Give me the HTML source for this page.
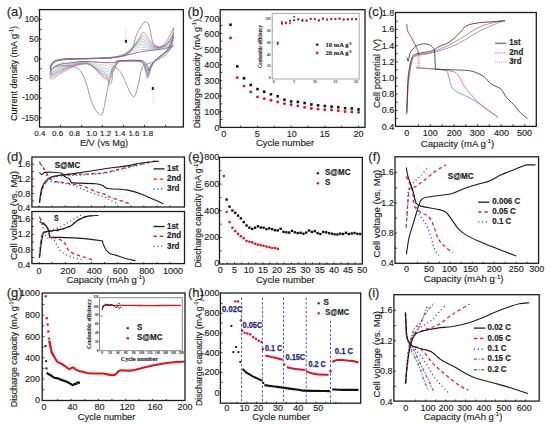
<!DOCTYPE html>
<html><head><meta charset="utf-8"><style>
html,body{margin:0;padding:0;background:#fff;width:550px;height:426px;overflow:hidden}
svg{display:block}
</style></head><body>
<svg width="550" height="426" viewBox="0 0 550 426">
<rect width="550" height="426" fill="#fff"/>
<path d="M50.5,67.71 L51.07,66.61 L51.64,65.5 L52.21,64.4 L52.78,63.29 L53.68,62.53 L54.8,61.98 L55.91,61.44 L57.03,60.89 L58.17,60.42 L59.4,60.23 L60.63,60.05 L61.86,59.88 L63.09,59.7 L64.33,59.52 L65.56,59.43 L66.81,59.37 L68.05,59.33 L69.29,59.29 L70.54,59.24 L71.78,59.2 L73.02,59.16 L74.27,59.12 L75.51,59.08 L76.75,59.04 L78,59 L79.24,58.95 L80.48,58.92 L81.73,58.89 L82.97,58.86 L84.21,58.82 L85.46,58.79 L86.7,58.76 L87.94,58.73 L89.19,58.7 L90.43,58.68 L91.68,58.65 L92.92,58.62 L94.16,58.59 L95.41,58.56 L96.65,58.53 L97.89,58.5 L99.14,58.46 L100.38,58.39 L101.62,58.31 L102.86,58.24 L104.1,58.16 L105.34,58.09 L106.59,58.01 L107.83,57.94 L109.07,57.85 L110.31,57.77 L111.55,57.69 L112.79,57.61 L114.02,57.46 L115.23,57.18 L116.45,56.91 L117.66,56.63 L118.87,56.36 L120.08,56.09 L121.29,55.81 L122.5,55.54 L123.66,55.16 L124.69,54.5 L125.72,53.83 L126.75,53.15 L127.77,52.47 L128.8,51.8 L129.67,50.97 L130.42,50.04 L131.18,49.1 L131.94,48.17 L132.7,47.24 L133.45,46.3 L134.21,45.36 L134.96,44.42 L135.72,43.47 L136.47,42.53 L137.23,41.59 L137.99,40.65 L138.77,39.72 L139.54,38.79 L140.31,37.86 L141.08,36.93 L141.86,36.01 L142.64,35.31 L143.51,36.1 L144.37,36.9 L145.24,37.69 L146.1,38.49 L146.97,39.28 L147.81,40.1 L148.63,40.93 L149.46,41.77 L150.29,42.61 L151.12,43.44 L151.94,44.28 L152.78,45.11 L153.9,45.58 L155.03,46.05 L156.16,46.52 L157.29,46.99 L158.41,47.46 L159.53,47.69 L160.63,47.12 L161.72,46.54 L162.82,45.97 L163.91,45.4 L165,44.83 L166.1,44.26 L167.17,43.67 L167.88,42.69 L168.58,41.7 L169.28,40.72 L169.99,39.73 L170.69,38.74 L171.39,37.75 L172.09,36.76 L172.8,35.77 L173.5,34.79" fill="none" stroke="#b86a8a" stroke-width="0.6" stroke-linecap="butt" stroke-linejoin="round"/>
<path d="M173.5,34.79 L173.02,36.33 L172.54,37.88 L172.06,39.42 L171.58,40.96 L171.09,42.5 L170.6,44.03 L169.79,45.44 L168.96,46.84 L168.13,48.24 L167.3,49.64 L166.47,51.04 L165.22,52.1 L163.97,53.16 L162.72,54.22 L161.47,55.28 L160.22,56.34 L158.96,57.39 L157.69,58.43 L156.42,59.47 L155.16,60.52 L154.12,61.75 L153.34,63.18 L152.56,64.62 L151.81,66.07 L151.05,67.52 L150.49,69.06 L149.99,70.62 L149.5,72.18 L149.01,73.75 L148.52,75.19 L148.04,76.42 L147.57,76.4 L147.11,74.83 L146.65,73.26 L146.13,71.71 L145.61,70.16 L145.15,68.6 L144.7,67.04 L144.2,65.54 L143.69,64.04 L142.56,62.91 L141.35,61.87 L139.93,61.31 L138.29,61.24 L136.65,61.17 L135.01,61.1 L133.37,61.03 L131.73,60.96 L130.09,60.89 L128.45,60.89 L126.81,60.9 L125.17,60.91 L123.53,60.93 L121.89,60.94 L120.25,60.95 L118.62,60.97 L117.36,61.56 L116.83,62.99 L116.3,64.45 L115.78,65.92 L115.26,67.39 L114.5,68.74 L113.52,69.98 L112.86,71.33 L112.52,72.8 L112.17,74.27 L111.83,75.74 L111.49,77.21 L110.93,78.59 L110.01,79.84 L109.09,81.09 L108.31,80.11 L107.55,78.76 L106.8,77.4 L105.54,76.63 L103.95,76.23 L102.68,75.28 L101.47,74.24 L100.26,73.19 L99.05,72.14 L97.84,71.1 L96.63,70.05 L95.42,69 L94.21,67.96 L92.99,66.91 L91.74,65.92 L90.34,65.11 L88.94,64.3 L87.5,63.67 L85.86,63.77 L84.23,63.86 L82.59,63.96 L80.95,64.06 L79.35,64.42 L77.76,64.79 L76.16,65.15 L74.56,65.52 L73.03,66.06 L71.54,66.73 L70.05,67.4 L68.56,68.08 L67.08,68.75 L65.64,69.51 L64.21,70.3 L62.78,71.08 L61.35,71.86 L59.92,72.64 L58.45,73.34 L56.96,74.02 L55.49,74.74 L54.03,75.48 L52.57,76.23 L51.29,76.67 L51.1,75.3 L50.91,73.93 L50.72,72.56 L50.63,70.99 L50.56,69.35 L50.5,67.71" fill="none" stroke="#b86a8a" stroke-width="0.6" stroke-linecap="butt" stroke-linejoin="round"/>
<path d="M50.5,67.43 L51.07,66.36 L51.64,65.28 L52.21,64.21 L52.77,63.14 L53.66,62.4 L54.76,61.88 L55.85,61.36 L56.95,60.84 L58.07,60.38 L59.26,60.18 L60.46,60.01 L61.67,59.83 L62.87,59.66 L64.07,59.49 L65.28,59.38 L66.49,59.31 L67.7,59.27 L68.92,59.23 L70.13,59.19 L71.35,59.15 L72.56,59.11 L73.77,59.06 L74.99,59.02 L76.2,58.98 L77.41,58.94 L78.63,58.9 L79.84,58.87 L81.06,58.84 L82.27,58.8 L83.49,58.77 L84.7,58.74 L85.91,58.71 L87.13,58.69 L88.34,58.66 L89.56,58.63 L90.77,58.61 L91.99,58.58 L93.2,58.55 L94.41,58.52 L95.63,58.5 L96.84,58.47 L98.06,58.44 L99.27,58.37 L100.48,58.31 L101.69,58.24 L102.91,58.18 L104.12,58.11 L105.33,58.04 L106.54,57.98 L107.76,57.9 L108.97,57.82 L110.18,57.74 L111.39,57.66 L112.59,57.53 L113.78,57.29 L114.97,57.05 L116.16,56.81 L117.34,56.57 L118.53,56.33 L119.72,56.09 L120.9,55.85 L122.05,55.53 L123.08,54.97 L124.12,54.37 L125.15,53.78 L126.18,53.19 L127.21,52.6 L128.11,51.87 L128.91,51.07 L129.72,50.26 L130.53,49.45 L131.33,48.65 L132.14,47.83 L132.94,47 L133.74,46.17 L134.54,45.35 L135.35,44.52 L136.15,43.69 L136.96,42.87 L137.78,42.05 L138.59,41.24 L139.41,40.42 L140.23,39.61 L141.05,38.8 L141.88,38.19 L142.77,38.82 L143.67,39.44 L144.56,40.07 L145.46,40.7 L146.35,41.32 L147.23,41.97 L148.09,42.63 L148.96,43.31 L149.82,43.99 L150.69,44.67 L151.55,45.34 L152.43,46.02 L153.54,46.39 L154.66,46.76 L155.77,47.13 L156.89,47.5 L158.01,47.86 L159.12,48.02 L160.2,47.52 L161.29,47.02 L162.38,46.51 L163.47,46.01 L164.55,45.51 L165.64,45.01 L166.71,44.49 L167.47,43.63 L168.23,42.75 L168.98,41.87 L169.73,40.99 L170.49,40.1 L171.24,39.22 L171.99,38.34 L172.75,37.45 L173.5,36.57" fill="none" stroke="#8a60b0" stroke-width="0.6" stroke-linecap="butt" stroke-linejoin="round"/>
<path d="M173.5,36.57 L172.96,38 L172.41,39.44 L171.87,40.87 L171.31,42.28 L170.75,43.7 L170.19,45.11 L169.36,46.42 L168.51,47.71 L167.66,49 L166.8,50.29 L165.95,51.57 L164.74,52.58 L163.54,53.58 L162.33,54.59 L161.13,55.61 L159.93,56.62 L158.72,57.62 L157.5,58.61 L156.29,59.61 L155.1,60.63 L154.09,61.8 L153.3,63.14 L152.51,64.48 L151.75,65.85 L151.01,67.23 L150.43,68.68 L149.95,70.17 L149.48,71.67 L149.01,73.17 L148.55,74.41 L148.1,75.24 L147.65,75.03 L147.22,73.52 L146.77,72.02 L146.22,70.57 L145.66,69.12 L145.16,67.65 L144.66,66.2 L144.05,64.86 L143.45,63.53 L142.32,62.51 L141.11,61.63 L139.71,61.17 L138.14,61.1 L136.58,61.04 L135.01,60.97 L133.44,60.91 L131.87,60.84 L130.3,60.78 L128.73,60.77 L127.16,60.8 L125.59,60.82 L124.02,60.85 L122.45,60.88 L120.88,60.91 L119.31,60.94 L118.06,61.44 L117.42,62.65 L116.78,63.91 L116.15,65.19 L115.51,66.47 L114.68,67.64 L113.67,68.69 L112.91,69.83 L112.42,71.07 L111.93,72.31 L111.45,73.55 L110.96,74.79 L110.29,75.93 L109.32,76.97 L108.35,78 L107.49,77.17 L106.66,76.03 L105.83,74.89 L104.57,74.23 L103.05,73.89 L101.79,73.09 L100.57,72.21 L99.36,71.32 L98.15,70.44 L96.94,69.56 L95.73,68.67 L94.51,67.79 L93.3,66.91 L92.09,66.02 L90.84,65.19 L89.47,64.5 L88.1,63.83 L86.7,63.32 L85.13,63.42 L83.56,63.52 L82,63.62 L80.43,63.73 L78.89,64.04 L77.36,64.37 L75.83,64.7 L74.29,65.02 L72.81,65.49 L71.37,66.08 L69.93,66.67 L68.49,67.26 L67.05,67.85 L65.65,68.52 L64.26,69.2 L62.86,69.89 L61.47,70.57 L60.08,71.25 L58.65,71.86 L57.21,72.45 L55.81,73.14 L54.42,73.87 L53.03,74.6 L51.79,75.08 L51.46,74.05 L51.13,73.01 L50.8,71.98 L50.65,70.56 L50.58,69 L50.5,67.43" fill="none" stroke="#8a60b0" stroke-width="0.6" stroke-linecap="butt" stroke-linejoin="round"/>
<path d="M50.5,67.14 L51.07,66.1 L51.64,65.07 L52.2,64.03 L52.77,62.99 L53.64,62.27 L54.72,61.78 L55.8,61.28 L56.87,60.79 L57.96,60.34 L59.12,60.13 L60.3,59.96 L61.47,59.79 L62.64,59.62 L63.82,59.45 L64.99,59.34 L66.17,59.25 L67.36,59.21 L68.54,59.17 L69.73,59.13 L70.91,59.09 L72.1,59.05 L73.28,59.01 L74.46,58.97 L75.65,58.93 L76.83,58.89 L78.02,58.85 L79.2,58.82 L80.39,58.78 L81.57,58.75 L82.76,58.72 L83.94,58.69 L85.13,58.67 L86.31,58.64 L87.5,58.62 L88.68,58.59 L89.87,58.57 L91.05,58.54 L92.24,58.52 L93.42,58.49 L94.61,58.47 L95.79,58.44 L96.98,58.41 L98.16,58.36 L99.34,58.3 L100.53,58.24 L101.71,58.19 L102.89,58.13 L104.08,58.08 L105.26,58.02 L106.44,57.95 L107.63,57.87 L108.81,57.79 L109.99,57.72 L111.17,57.6 L112.33,57.39 L113.49,57.19 L114.65,56.98 L115.82,56.78 L116.98,56.58 L118.14,56.37 L119.3,56.17 L120.43,55.89 L121.48,55.43 L122.51,54.92 L123.55,54.41 L124.58,53.9 L125.62,53.39 L126.55,52.78 L127.4,52.1 L128.26,51.42 L129.11,50.73 L129.97,50.05 L130.82,49.36 L131.67,48.64 L132.52,47.93 L133.37,47.22 L134.22,46.51 L135.07,45.8 L135.92,45.09 L136.79,44.39 L137.65,43.68 L138.51,42.98 L139.37,42.29 L140.24,41.6 L141.11,41.07 L142.03,41.53 L142.96,41.99 L143.89,42.45 L144.81,42.91 L145.74,43.37 L146.65,43.84 L147.55,44.34 L148.45,44.85 L149.36,45.37 L150.26,45.89 L151.17,46.4 L152.07,46.92 L153.18,47.19 L154.28,47.46 L155.39,47.73 L156.49,48 L157.6,48.26 L158.7,48.36 L159.78,47.92 L160.86,47.49 L161.94,47.06 L163.02,46.62 L164.1,46.19 L165.18,45.75 L166.25,45.31 L167.07,44.58 L167.87,43.8 L168.68,43.02 L169.48,42.24 L170.28,41.47 L171.09,40.69 L171.89,39.91 L172.7,39.13 L173.5,38.36" fill="none" stroke="#6a88c8" stroke-width="0.6" stroke-linecap="butt" stroke-linejoin="round"/>
<path d="M173.5,38.36 L172.89,39.68 L172.29,40.99 L171.68,42.31 L171.04,43.6 L170.41,44.9 L169.78,46.19 L168.93,47.4 L168.06,48.58 L167.18,49.76 L166.3,50.93 L165.42,52.11 L164.26,53.06 L163.1,54.01 L161.95,54.97 L160.8,55.93 L159.65,56.9 L158.49,57.85 L157.32,58.79 L156.17,59.76 L155.04,60.75 L154.06,61.85 L153.26,63.1 L152.45,64.34 L151.7,65.63 L150.97,66.94 L150.37,68.3 L149.9,69.72 L149.46,71.16 L149.01,72.59 L148.58,73.64 L148.15,74.07 L147.74,73.66 L147.33,72.22 L146.89,70.79 L146.3,69.43 L145.71,68.07 L145.16,66.71 L144.61,65.35 L143.91,64.18 L143.2,63.01 L142.07,62.1 L140.86,61.4 L139.5,61.02 L138,60.96 L136.5,60.9 L135,60.84 L133.5,60.79 L132,60.73 L130.5,60.67 L129,60.66 L127.5,60.7 L126,60.74 L124.5,60.78 L123,60.82 L121.5,60.86 L120.01,60.91 L118.76,61.33 L118,62.32 L117.26,63.38 L116.51,64.46 L115.77,65.55 L114.87,66.54 L113.81,67.39 L112.96,68.33 L112.33,69.34 L111.7,70.35 L111.06,71.36 L110.43,72.37 L109.65,73.28 L108.63,74.09 L107.6,74.9 L106.68,74.23 L105.77,73.3 L104.86,72.38 L103.61,71.84 L102.15,71.55 L100.89,70.9 L99.68,70.18 L98.47,69.46 L97.25,68.74 L96.04,68.02 L94.82,67.3 L93.61,66.57 L92.4,65.85 L91.18,65.13 L89.94,64.45 L88.6,63.89 L87.26,63.35 L85.9,62.97 L84.4,63.07 L82.9,63.18 L81.4,63.29 L79.91,63.39 L78.44,63.67 L76.97,63.96 L75.5,64.24 L74.03,64.53 L72.6,64.92 L71.2,65.42 L69.81,65.94 L68.41,66.45 L67.02,66.96 L65.66,67.53 L64.3,68.11 L62.95,68.69 L61.59,69.27 L60.24,69.86 L58.85,70.38 L57.46,70.89 L56.12,71.55 L54.8,72.26 L53.48,72.98 L52.29,73.49 L51.82,72.8 L51.35,72.1 L50.88,71.41 L50.68,70.14 L50.59,68.64 L50.5,67.14" fill="none" stroke="#6a88c8" stroke-width="0.6" stroke-linecap="butt" stroke-linejoin="round"/>
<path d="M50.5,66.86 L51.07,65.85 L51.63,64.85 L52.2,63.84 L52.77,62.84 L53.63,62.15 L54.68,61.68 L55.74,61.21 L56.79,60.74 L57.86,60.3 L58.98,60.07 L60.13,59.91 L61.27,59.75 L62.42,59.58 L63.56,59.42 L64.71,59.3 L65.86,59.19 L67.01,59.15 L68.17,59.11 L69.32,59.07 L70.48,59.03 L71.63,58.99 L72.79,58.95 L73.94,58.92 L75.1,58.88 L76.25,58.84 L77.41,58.8 L78.56,58.77 L79.72,58.73 L80.87,58.7 L82.03,58.66 L83.18,58.64 L84.34,58.62 L85.5,58.59 L86.65,58.57 L87.81,58.55 L88.96,58.53 L90.12,58.5 L91.27,58.48 L92.43,58.46 L93.58,58.43 L94.74,58.41 L95.89,58.39 L97.05,58.34 L98.2,58.29 L99.36,58.25 L100.51,58.2 L101.67,58.16 L102.82,58.11 L103.98,58.06 L105.13,57.99 L106.28,57.92 L107.44,57.85 L108.59,57.77 L109.74,57.66 L110.88,57.5 L112.01,57.33 L113.15,57.16 L114.29,56.99 L115.43,56.82 L116.57,56.65 L117.71,56.48 L118.82,56.26 L119.87,55.9 L120.91,55.47 L121.95,55.04 L122.99,54.62 L124.03,54.19 L124.98,53.68 L125.89,53.13 L126.79,52.57 L127.7,52.02 L128.6,51.46 L129.51,50.88 L130.4,50.29 L131.3,49.69 L132.2,49.1 L133.09,48.5 L133.99,47.9 L134.89,47.31 L135.8,46.72 L136.7,46.13 L137.61,45.54 L138.52,44.97 L139.43,44.4 L140.34,43.95 L141.3,44.24 L142.25,44.54 L143.21,44.83 L144.17,45.12 L145.12,45.41 L146.06,45.72 L147,46.04 L147.95,46.4 L148.89,46.75 L149.83,47.11 L150.78,47.47 L151.72,47.82 L152.82,47.99 L153.91,48.16 L155.01,48.33 L156.1,48.5 L157.19,48.66 L158.28,48.69 L159.35,48.33 L160.43,47.96 L161.5,47.6 L162.58,47.23 L163.65,46.87 L164.73,46.5 L165.79,46.13 L166.66,45.52 L167.52,44.85 L168.37,44.17 L169.23,43.5 L170.08,42.83 L170.94,42.16 L171.79,41.49 L172.65,40.81 L173.5,40.14" fill="none" stroke="#6ab0b0" stroke-width="0.6" stroke-linecap="butt" stroke-linejoin="round"/>
<path d="M173.5,40.14 L172.83,41.35 L172.16,42.55 L171.48,43.75 L170.78,44.92 L170.08,46.1 L169.37,47.27 L168.51,48.37 L167.61,49.45 L166.71,50.52 L165.8,51.58 L164.9,52.65 L163.78,53.54 L162.67,54.44 L161.56,55.35 L160.46,56.26 L159.36,57.17 L158.25,58.08 L157.14,58.98 L156.05,59.9 L154.98,60.86 L154.03,61.9 L153.21,63.05 L152.39,64.2 L151.65,65.42 L150.93,66.65 L150.31,67.93 L149.86,69.28 L149.43,70.65 L149.01,72.01 L148.6,72.87 L148.21,72.89 L147.82,72.29 L147.44,70.91 L147.02,69.55 L146.39,68.29 L145.77,67.03 L145.17,65.76 L144.57,64.5 L143.76,63.5 L142.96,62.49 L141.83,61.7 L140.61,61.16 L139.29,60.87 L137.86,60.82 L136.43,60.77 L135,60.72 L133.57,60.66 L132.14,60.61 L130.71,60.56 L129.28,60.54 L127.85,60.59 L126.42,60.65 L124.99,60.71 L123.56,60.76 L122.13,60.82 L120.7,60.88 L119.46,61.22 L118.59,61.98 L117.73,62.84 L116.88,63.74 L116.03,64.63 L115.06,65.44 L113.96,66.1 L113.02,66.82 L112.24,67.6 L111.46,68.38 L110.68,69.16 L109.9,69.94 L109.01,70.62 L107.94,71.21 L106.86,71.81 L105.86,71.28 L104.88,70.57 L103.89,69.86 L102.65,69.44 L101.24,69.21 L100,68.7 L98.79,68.15 L97.57,67.59 L96.35,67.03 L95.14,66.48 L93.92,65.92 L92.71,65.36 L91.49,64.8 L90.28,64.25 L89.04,63.72 L87.73,63.27 L86.42,62.88 L85.09,62.62 L83.67,62.73 L82.24,62.84 L80.81,62.95 L79.39,63.06 L77.98,63.3 L76.57,63.54 L75.17,63.78 L73.76,64.03 L72.38,64.36 L71.03,64.77 L69.69,65.2 L68.34,65.63 L66.99,66.06 L65.67,66.53 L64.35,67.01 L63.03,67.5 L61.71,67.98 L60.39,68.46 L59.05,68.9 L57.7,69.33 L56.43,69.95 L55.18,70.65 L53.94,71.36 L52.78,71.91 L52.17,71.55 L51.57,71.19 L50.96,70.84 L50.71,69.71 L50.6,68.28 L50.5,66.86" fill="none" stroke="#6ab0b0" stroke-width="0.6" stroke-linecap="butt" stroke-linejoin="round"/>
<path d="M50.5,66.57 L51.07,65.6 L51.63,64.63 L52.2,63.66 L52.77,62.68 L53.61,62.02 L54.64,61.58 L55.68,61.13 L56.71,60.68 L57.75,60.26 L58.84,60.02 L59.96,59.86 L61.07,59.7 L62.19,59.54 L63.3,59.39 L64.42,59.25 L65.54,59.13 L66.67,59.09 L67.79,59.05 L68.92,59.01 L70.04,58.97 L71.17,58.94 L72.29,58.9 L73.42,58.86 L74.55,58.82 L75.67,58.79 L76.8,58.75 L77.92,58.71 L79.05,58.68 L80.17,58.65 L81.3,58.61 L82.43,58.59 L83.55,58.57 L84.68,58.55 L85.8,58.53 L86.93,58.51 L88.06,58.49 L89.18,58.47 L90.31,58.44 L91.44,58.42 L92.56,58.4 L93.69,58.38 L94.81,58.36 L95.94,58.32 L97.06,58.29 L98.19,58.25 L99.32,58.22 L100.44,58.18 L101.57,58.15 L102.69,58.11 L103.82,58.04 L104.94,57.97 L106.06,57.9 L107.19,57.83 L108.31,57.73 L109.42,57.6 L110.54,57.47 L111.65,57.33 L112.77,57.2 L113.88,57.06 L114.99,56.93 L116.11,56.8 L117.21,56.63 L118.26,56.36 L119.3,56.02 L120.35,55.67 L121.39,55.33 L122.43,54.98 L123.42,54.59 L124.38,54.16 L125.33,53.73 L126.29,53.3 L127.24,52.87 L128.19,52.41 L129.13,51.93 L130.08,51.45 L131.02,50.97 L131.97,50.49 L132.91,50.01 L133.86,49.53 L134.8,49.05 L135.75,48.58 L136.7,48.1 L137.66,47.65 L138.61,47.2 L139.57,46.83 L140.56,46.96 L141.55,47.08 L142.53,47.21 L143.52,47.33 L144.51,47.46 L145.48,47.59 L146.46,47.75 L147.44,47.94 L148.42,48.14 L149.41,48.33 L150.39,48.53 L151.37,48.72 L152.46,48.79 L153.54,48.86 L154.62,48.93 L155.7,49.01 L156.78,49.06 L157.86,49.03 L158.93,48.73 L160,48.43 L161.07,48.14 L162.13,47.84 L163.2,47.55 L164.27,47.25 L165.33,46.95 L166.26,46.46 L167.16,45.89 L168.07,45.33 L168.97,44.76 L169.88,44.19 L170.78,43.63 L171.69,43.06 L172.59,42.49 L173.5,41.93" fill="none" stroke="#98c098" stroke-width="0.6" stroke-linecap="butt" stroke-linejoin="round"/>
<path d="M173.5,41.93 L172.76,43.02 L172.03,44.11 L171.29,45.2 L170.51,46.25 L169.74,47.3 L168.96,48.34 L168.08,49.35 L167.16,50.32 L166.23,51.27 L165.3,52.23 L164.38,53.18 L163.31,54.02 L162.24,54.87 L161.18,55.72 L160.13,56.58 L159.07,57.45 L158.02,58.31 L156.96,59.16 L155.92,60.04 L154.93,60.97 L154,61.95 L153.17,63.01 L152.33,64.06 L151.6,65.2 L150.89,66.36 L150.25,67.55 L149.81,68.83 L149.41,70.13 L149.02,71.44 L148.63,72.09 L148.26,71.72 L147.9,70.92 L147.54,69.61 L147.14,68.32 L146.48,67.15 L145.82,65.98 L145.18,64.81 L144.52,63.66 L143.61,62.81 L142.71,61.97 L141.58,61.3 L140.36,60.93 L139.07,60.72 L137.71,60.68 L136.35,60.63 L134.99,60.59 L133.63,60.54 L132.27,60.5 L130.91,60.45 L129.55,60.43 L128.19,60.49 L126.83,60.56 L125.47,60.63 L124.11,60.7 L122.76,60.77 L121.4,60.84 L120.17,61.1 L119.18,61.65 L118.21,62.3 L117.25,63.01 L116.29,63.71 L115.24,64.33 L114.1,64.81 L113.07,65.32 L112.14,65.87 L111.22,66.42 L110.29,66.97 L109.37,67.52 L108.37,67.96 L107.24,68.34 L106.12,68.71 L105.05,68.34 L103.98,67.84 L102.92,67.35 L101.69,67.05 L100.34,66.87 L99.11,66.51 L97.89,66.12 L96.67,65.73 L95.46,65.33 L94.24,64.94 L93.02,64.54 L91.81,64.15 L90.59,63.75 L89.37,63.36 L88.14,62.98 L86.86,62.66 L85.58,62.4 L84.29,62.27 L82.93,62.38 L81.58,62.5 L80.22,62.61 L78.86,62.72 L77.52,62.92 L76.18,63.12 L74.83,63.33 L73.49,63.53 L72.17,63.79 L70.87,64.12 L69.56,64.47 L68.26,64.81 L66.96,65.16 L65.68,65.54 L64.4,65.92 L63.11,66.3 L61.83,66.69 L60.55,67.07 L59.25,67.42 L57.95,67.77 L56.74,68.36 L55.57,69.05 L54.4,69.73 L53.28,70.32 L52.53,70.3 L51.78,70.28 L51.03,70.26 L50.74,69.28 L50.62,67.93 L50.5,66.57" fill="none" stroke="#98c098" stroke-width="0.6" stroke-linecap="butt" stroke-linejoin="round"/>
<path d="M50.5,66.29 L51.07,65.35 L51.63,64.41 L52.2,63.47 L52.77,62.53 L53.59,61.9 L54.61,61.47 L55.62,61.05 L56.63,60.63 L57.65,60.22 L58.71,59.97 L59.79,59.82 L60.88,59.66 L61.96,59.51 L63.05,59.35 L64.14,59.21 L65.22,59.07 L66.32,59.03 L67.42,58.99 L68.51,58.95 L69.61,58.92 L70.71,58.88 L71.8,58.84 L72.9,58.81 L73.99,58.77 L75.09,58.74 L76.19,58.7 L77.28,58.66 L78.38,58.63 L79.48,58.59 L80.57,58.56 L81.67,58.54 L82.77,58.52 L83.86,58.5 L84.96,58.48 L86.06,58.46 L87.15,58.45 L88.25,58.43 L89.35,58.41 L90.44,58.39 L91.54,58.37 L92.64,58.35 L93.73,58.34 L94.83,58.31 L95.93,58.28 L97.02,58.26 L98.12,58.23 L99.22,58.21 L100.31,58.18 L101.41,58.15 L102.5,58.08 L103.6,58.02 L104.69,57.95 L105.79,57.88 L106.88,57.8 L107.97,57.7 L109.06,57.61 L110.15,57.51 L111.24,57.41 L112.33,57.31 L113.42,57.21 L114.51,57.11 L115.59,56.99 L116.65,56.83 L117.7,56.57 L118.75,56.3 L119.79,56.04 L120.84,55.78 L121.86,55.49 L122.87,55.19 L123.87,54.88 L124.87,54.58 L125.88,54.28 L126.87,53.94 L127.86,53.57 L128.86,53.21 L129.85,52.84 L130.84,52.48 L131.83,52.11 L132.82,51.75 L133.81,51.39 L134.81,51.03 L135.8,50.66 L136.8,50.33 L137.8,50 L138.81,49.71 L139.82,49.67 L140.84,49.63 L141.86,49.59 L142.87,49.54 L143.89,49.5 L144.9,49.46 L145.92,49.45 L146.94,49.48 L147.96,49.52 L148.98,49.55 L150,49.59 L151.02,49.62 L152.09,49.59 L153.16,49.56 L154.24,49.54 L155.31,49.51 L156.38,49.46 L157.44,49.36 L158.5,49.13 L159.57,48.91 L160.63,48.68 L161.69,48.45 L162.75,48.23 L163.81,48 L164.87,47.77 L165.85,47.4 L166.81,46.94 L167.76,46.48 L168.72,46.02 L169.68,45.56 L170.63,45.1 L171.59,44.64 L172.54,44.18 L173.5,43.71" fill="none" stroke="#d0a0c0" stroke-width="0.6" stroke-linecap="butt" stroke-linejoin="round"/>
<path d="M173.5,43.71 L172.7,44.69 L171.9,45.67 L171.1,46.64 L170.25,47.57 L169.4,48.5 L168.55,49.42 L167.65,50.33 L166.71,51.19 L165.76,52.03 L164.8,52.87 L163.85,53.72 L162.83,54.51 L161.8,55.29 L160.79,56.1 L159.79,56.91 L158.79,57.72 L157.78,58.53 L156.77,59.34 L155.8,60.19 L154.87,61.08 L153.97,62.01 L153.12,62.96 L152.27,63.92 L151.54,64.98 L150.85,66.07 L150.19,67.17 L149.76,68.38 L149.39,69.62 L149.02,70.86 L148.66,71.32 L148.32,70.54 L147.98,69.55 L147.65,68.3 L147.26,67.08 L146.57,66.01 L145.87,64.94 L145.18,63.86 L144.47,62.81 L143.47,62.13 L142.46,61.45 L141.34,60.9 L140.12,60.7 L138.86,60.58 L137.57,60.54 L136.28,60.5 L134.99,60.46 L133.7,60.42 L132.41,60.38 L131.11,60.34 L129.82,60.32 L128.53,60.39 L127.25,60.47 L125.96,60.56 L124.67,60.64 L123.38,60.73 L122.09,60.81 L120.87,60.99 L119.76,61.31 L118.69,61.77 L117.62,62.28 L116.55,62.8 L115.43,63.23 L114.25,63.51 L113.12,63.82 L112.05,64.14 L110.98,64.46 L109.91,64.78 L108.83,65.1 L107.72,65.31 L106.55,65.46 L105.38,65.61 L104.24,65.4 L103.09,65.12 L101.95,64.84 L100.72,64.65 L99.44,64.53 L98.21,64.32 L97,64.09 L95.78,63.86 L94.56,63.63 L93.34,63.4 L92.12,63.16 L90.9,62.93 L89.68,62.7 L88.47,62.47 L87.24,62.25 L85.99,62.05 L84.74,61.92 L83.49,61.92 L82.2,62.04 L80.92,62.15 L79.63,62.27 L78.34,62.39 L77.06,62.55 L75.78,62.71 L74.5,62.87 L73.22,63.03 L71.96,63.22 L70.7,63.47 L69.44,63.73 L68.19,64 L66.93,64.26 L65.69,64.54 L64.44,64.83 L63.2,65.11 L61.95,65.39 L60.71,65.68 L59.45,65.94 L58.2,66.21 L57.05,66.76 L55.95,67.44 L54.85,68.11 L53.78,68.73 L52.89,69.05 L52,69.37 L51.11,69.69 L50.77,68.85 L50.63,67.57 L50.5,66.29" fill="none" stroke="#d0a0c0" stroke-width="0.6" stroke-linecap="butt" stroke-linejoin="round"/>
<path d="M50.5,68 C50.92,67.17 51.75,64.25 53,63 C54.25,61.75 56,61.08 58,60.5 C60,59.92 61.33,59.75 65,59.5 C68.67,59.25 74.17,59.17 80,59 C85.83,58.83 94.17,58.75 100,58.5 C105.83,58.25 110.83,58.08 115,57.5 C119.17,56.92 122.37,56.13 125,55 C127.63,53.87 128.52,53.38 130.8,50.7 C133.08,48.02 136.62,41.97 138.7,38.9 C140.78,35.83 141.77,32.52 143.3,32.3 C144.83,32.08 146.27,35.62 147.9,37.6 C149.53,39.58 151.13,42.55 153.1,44.2 C155.07,45.85 157.28,47.72 159.7,47.5 C162.12,47.28 165.3,45.32 167.6,42.9 C169.9,40.48 172.52,34.65 173.5,33" fill="none" stroke="#c86878" stroke-width="0.7" stroke-linecap="butt" stroke-linejoin="round"/>
<path d="M173.5,33 C173.08,34.67 172.08,40.08 171,43 C169.92,45.92 168.83,48.25 167,50.5 C165.17,52.75 162.08,54.75 160,56.5 C157.92,58.25 156,59.08 154.5,61 C153,62.92 152.13,65.08 151,68 C149.87,70.92 148.62,78 147.7,78.5 C146.78,79 146.13,73.35 145.5,71 C144.87,68.65 144.65,65.98 143.9,64.4 C143.15,62.82 143.32,62.07 141,61.5 C138.68,60.93 133.83,61.08 130,61 C126.17,60.92 120.2,60.98 118,61 C115.8,61.02 117.33,59.75 116.8,61.1 C116.27,62.45 115.45,67.28 114.8,69.1 C114.15,70.92 113.38,70.07 112.9,72 C112.42,73.93 112.43,78.63 111.9,80.7 C111.37,82.77 110.43,84.63 109.7,84.4 C108.97,84.17 108.35,80.28 107.5,79.3 C106.65,78.32 105.57,79.12 104.6,78.5 C103.63,77.88 102.9,76.8 101.7,75.6 C100.5,74.4 98.85,72.75 97.4,71.3 C95.95,69.85 94.47,68.12 93,66.9 C91.53,65.68 90.53,64.42 88.6,64 C86.67,63.58 83.82,64.03 81.4,64.4 C78.98,64.77 76.53,65.3 74.1,66.2 C71.67,67.1 69.23,68.47 66.8,69.8 C64.37,71.13 62.17,72.75 59.5,74.2 C56.83,75.65 52.3,79.53 50.8,78.5 C49.3,77.47 50.55,69.75 50.5,68" fill="none" stroke="#c86878" stroke-width="0.7" stroke-linecap="butt" stroke-linejoin="round"/>
<path d="M50.5,66 C50.92,65.33 51.75,63 53,62 C54.25,61 56,60.5 58,60 C60,59.5 61.33,59.25 65,59 C68.67,58.75 74.17,58.63 80,58.5 C85.83,58.37 94.17,58.4 100,58.2 C105.83,58 110.83,57.73 115,57.3 C119.17,56.87 121.67,56.28 125,55.6 C128.33,54.92 131.67,53.93 135,53.2 C138.33,52.47 141.67,51.73 145,51.2 C148.33,50.67 151.67,50.45 155,50 C158.33,49.55 161.92,49.25 165,48.5 C168.08,47.75 172.08,46 173.5,45.5" fill="none" stroke="#7a4aa8" stroke-width="0.8" stroke-linecap="butt" stroke-linejoin="round"/>
<path d="M173.5,45.5 C173.08,45.92 172.08,47 171,48 C169.92,49 168.67,50.17 167,51.5 C165.33,52.83 162.83,54.58 161,56 C159.17,57.42 157.5,58.67 156,60 C154.5,61.33 153,62.83 152,64 C151,65.17 150.53,65.83 150,67 C149.47,68.17 149.22,71.17 148.8,71 C148.38,70.83 148.22,67.5 147.5,66 C146.78,64.5 145.53,62.92 144.5,62 C143.47,61.08 143.72,60.8 141.3,60.5 C138.88,60.2 133.55,60.12 130,60.2 C126.45,60.28 122.33,60.68 120,61 C117.67,61.32 118,61.82 116,62.1 C114,62.38 111.5,62.72 108,62.7 C104.5,62.68 98.93,62.22 95,62 C91.07,61.78 88.35,61.28 84.4,61.4 C80.45,61.52 75.68,62.15 71.3,62.7 C66.92,63.25 61.5,63.6 58.1,64.7 C54.7,65.8 52.17,69.08 50.9,69.3 C49.63,69.52 50.57,66.55 50.5,66" fill="none" stroke="#5a4a98" stroke-width="0.8" stroke-linecap="butt" stroke-linejoin="round"/>
<path d="M50.8,66 C51.17,65.37 51.8,63.2 53,62.2 C54.2,61.2 56,60.53 58,60 C60,59.47 61.33,59.23 65,59 C68.67,58.77 74.17,58.73 80,58.6 C85.83,58.47 94.17,58.4 100,58.2 C105.83,58 110.83,57.9 115,57.4 C119.17,56.9 122.15,56.53 125,55.2 C127.85,53.87 130.27,52.55 132.1,49.4 C133.93,46.25 134.68,39.8 136,36.3 C137.32,32.8 138.47,30.82 140,28.4 C141.53,25.98 143.67,22.23 145.2,21.8 C146.73,21.37 148.1,22.95 149.2,25.8 C150.3,28.65 150.93,35.73 151.8,38.9 C152.67,42.07 153.08,43.48 154.4,44.8 C155.72,46.12 157.93,47.02 159.7,46.8 C161.47,46.58 163.25,45.47 165,43.5 C166.75,41.53 168.78,37.63 170.2,35 C171.62,32.37 172.95,28.92 173.5,27.7" fill="none" stroke="#7a7a7a" stroke-width="0.75" stroke-linecap="butt" stroke-linejoin="round"/>
<path d="M173.5,27.7 C173.33,29.75 173.27,36.07 172.5,40 C171.73,43.93 170.82,48.32 168.9,51.3 C166.98,54.28 163.42,56.2 161,57.9 C158.58,59.6 156.57,60.52 154.4,61.5 C152.23,62.48 149.85,63.08 148,63.8 C146.15,64.52 144.55,64.27 143.3,65.8 C142.05,67.33 141.27,70.15 140.5,73 C139.73,75.85 139.45,79.57 138.7,82.9 C137.95,86.23 136.77,90.72 136,93 C135.23,95.28 134.93,96.43 134.1,96.6 C133.27,96.77 132,95.42 131,94 C130,92.58 129.67,91.48 128.1,88.1 C126.53,84.72 123.45,76.98 121.6,73.7 C119.75,70.42 118.38,69.6 117,68.4 C115.62,67.2 114.35,65.37 113.3,66.5 C112.25,67.63 111.58,71.78 110.7,75.2 C109.82,78.62 108.88,82.83 108,87 C107.12,91.17 106.15,96.37 105.4,100.2 C104.65,104.03 104.13,107.53 103.5,110 C102.87,112.47 102.35,114.33 101.6,115 C100.85,115.67 100.1,115 99,114 C97.9,113 96.33,111.3 95,109 C93.67,106.7 92.33,104.03 91,100.2 C89.67,96.37 88.32,90.17 87,86 C85.68,81.83 84.43,77.95 83.1,75.2 C81.77,72.45 80.32,70.82 79,69.5 C77.68,68.18 76.7,67.88 75.2,67.3 C73.7,66.72 72.2,66.3 70,66 C67.8,65.7 64.5,65.33 62,65.5 C59.5,65.67 56.87,66.33 55,67 C53.13,67.67 51.5,69.67 50.8,69.5 C50.1,69.33 50.8,66.58 50.8,66" fill="none" stroke="#7a7a7a" stroke-width="0.75" stroke-linecap="butt" stroke-linejoin="round"/>
<line x1="125.9" y1="28.2" x2="125.9" y2="29" stroke="#999" stroke-width="0.6" stroke-linecap="butt"/>
<line x1="125.9" y1="30.4" x2="125.9" y2="31.2" stroke="#999" stroke-width="0.6" stroke-linecap="butt"/>
<line x1="125.9" y1="32.6" x2="125.9" y2="33.4" stroke="#999" stroke-width="0.6" stroke-linecap="butt"/>
<line x1="125.9" y1="34.8" x2="125.9" y2="35.6" stroke="#999" stroke-width="0.6" stroke-linecap="butt"/>
<line x1="125.9" y1="37" x2="125.9" y2="37.8" stroke="#999" stroke-width="0.6" stroke-linecap="butt"/>
<rect x="124.9" y="39.8" width="2" height="3" fill="#222"/>
<rect x="151.8" y="86.9" width="2" height="3" fill="#222"/>
<line x1="152.8" y1="91.5" x2="152.8" y2="92.3" stroke="#999" stroke-width="0.6" stroke-linecap="butt"/>
<line x1="152.8" y1="93.7" x2="152.8" y2="94.5" stroke="#999" stroke-width="0.6" stroke-linecap="butt"/>
<line x1="152.8" y1="95.9" x2="152.8" y2="96.7" stroke="#999" stroke-width="0.6" stroke-linecap="butt"/>
<line x1="152.8" y1="98.1" x2="152.8" y2="98.9" stroke="#999" stroke-width="0.6" stroke-linecap="butt"/>
<line x1="152.8" y1="100.3" x2="152.8" y2="101.1" stroke="#999" stroke-width="0.6" stroke-linecap="butt"/>
<line x1="152.8" y1="102.5" x2="152.8" y2="103.3" stroke="#999" stroke-width="0.6" stroke-linecap="butt"/>
<rect x="39.5" y="9.6" width="143.9" height="117.4" fill="none" stroke="#1c1c1c" stroke-width="1.3"/>
<line x1="39.5" y1="19.5" x2="41.7" y2="19.5" stroke="#1c1c1c" stroke-width="0.8" stroke-linecap="butt"/>
<line x1="39.5" y1="29.34" x2="41.7" y2="29.34" stroke="#1c1c1c" stroke-width="0.8" stroke-linecap="butt"/>
<line x1="39.5" y1="39.18" x2="41.7" y2="39.18" stroke="#1c1c1c" stroke-width="0.8" stroke-linecap="butt"/>
<line x1="39.5" y1="49.02" x2="41.7" y2="49.02" stroke="#1c1c1c" stroke-width="0.8" stroke-linecap="butt"/>
<line x1="39.5" y1="58.86" x2="41.7" y2="58.86" stroke="#1c1c1c" stroke-width="0.8" stroke-linecap="butt"/>
<line x1="39.5" y1="68.7" x2="41.7" y2="68.7" stroke="#1c1c1c" stroke-width="0.8" stroke-linecap="butt"/>
<line x1="39.5" y1="78.54" x2="41.7" y2="78.54" stroke="#1c1c1c" stroke-width="0.8" stroke-linecap="butt"/>
<line x1="39.5" y1="88.38" x2="41.7" y2="88.38" stroke="#1c1c1c" stroke-width="0.8" stroke-linecap="butt"/>
<line x1="39.5" y1="98.22" x2="41.7" y2="98.22" stroke="#1c1c1c" stroke-width="0.8" stroke-linecap="butt"/>
<line x1="39.5" y1="108.06" x2="41.7" y2="108.06" stroke="#1c1c1c" stroke-width="0.8" stroke-linecap="butt"/>
<line x1="39.5" y1="117.9" x2="41.7" y2="117.9" stroke="#1c1c1c" stroke-width="0.8" stroke-linecap="butt"/>
<line x1="60.5" y1="127" x2="60.5" y2="124.8" stroke="#1c1c1c" stroke-width="0.8" stroke-linecap="butt"/>
<line x1="81.5" y1="127" x2="81.5" y2="124.8" stroke="#1c1c1c" stroke-width="0.8" stroke-linecap="butt"/>
<line x1="102.5" y1="127" x2="102.5" y2="124.8" stroke="#1c1c1c" stroke-width="0.8" stroke-linecap="butt"/>
<line x1="123.5" y1="127" x2="123.5" y2="124.8" stroke="#1c1c1c" stroke-width="0.8" stroke-linecap="butt"/>
<line x1="144.5" y1="127" x2="144.5" y2="124.8" stroke="#1c1c1c" stroke-width="0.8" stroke-linecap="butt"/>
<line x1="165.5" y1="127" x2="165.5" y2="124.8" stroke="#1c1c1c" stroke-width="0.8" stroke-linecap="butt"/>
<text transform="translate(38.6,22.14)" font-family="Liberation Sans" font-size="8.3" text-anchor="end" fill="#1e1e1e" stroke="#1e1e1e" stroke-width="0.15">100</text>
<text transform="translate(38.6,42.04)" font-family="Liberation Sans" font-size="8.3" text-anchor="end" fill="#1e1e1e" stroke="#1e1e1e" stroke-width="0.15">50</text>
<text transform="translate(38.6,61.74)" font-family="Liberation Sans" font-size="8.3" text-anchor="end" fill="#1e1e1e" stroke="#1e1e1e" stroke-width="0.15">0</text>
<text transform="translate(38.6,81.14)" font-family="Liberation Sans" font-size="8.3" text-anchor="end" fill="#1e1e1e" stroke="#1e1e1e" stroke-width="0.15">-50</text>
<text transform="translate(38.6,100.24)" font-family="Liberation Sans" font-size="8.3" text-anchor="end" fill="#1e1e1e" stroke="#1e1e1e" stroke-width="0.15">-100</text>
<text transform="translate(38.6,120.64)" font-family="Liberation Sans" font-size="8.3" text-anchor="end" fill="#1e1e1e" stroke="#1e1e1e" stroke-width="0.15">-150</text>
<text transform="translate(39.9,135.94)" font-family="Liberation Sans" font-size="8.0" text-anchor="middle" fill="#1e1e1e" stroke="#1e1e1e" stroke-width="0.15">0.4</text>
<text transform="translate(57.6,135.94)" font-family="Liberation Sans" font-size="8.0" text-anchor="middle" fill="#1e1e1e" stroke="#1e1e1e" stroke-width="0.15">0.6</text>
<text transform="translate(74.5,135.94)" font-family="Liberation Sans" font-size="8.0" text-anchor="middle" fill="#1e1e1e" stroke="#1e1e1e" stroke-width="0.15">0.8</text>
<text transform="translate(91.7,135.94)" font-family="Liberation Sans" font-size="8.0" text-anchor="middle" fill="#1e1e1e" stroke="#1e1e1e" stroke-width="0.15">1.0</text>
<text transform="translate(105.6,135.94)" font-family="Liberation Sans" font-size="8.0" text-anchor="middle" fill="#1e1e1e" stroke="#1e1e1e" stroke-width="0.15">1.2</text>
<text transform="translate(119.8,135.94)" font-family="Liberation Sans" font-size="8.0" text-anchor="middle" fill="#1e1e1e" stroke="#1e1e1e" stroke-width="0.15">1.4</text>
<text transform="translate(134,135.94)" font-family="Liberation Sans" font-size="8.0" text-anchor="middle" fill="#1e1e1e" stroke="#1e1e1e" stroke-width="0.15">1.6</text>
<text transform="translate(147.7,135.94)" font-family="Liberation Sans" font-size="8.0" text-anchor="middle" fill="#1e1e1e" stroke="#1e1e1e" stroke-width="0.15">1.8</text>
<text transform="translate(104,146)" font-family="Liberation Sans" font-size="9.8" text-anchor="middle" fill="#1e1e1e" stroke="#1e1e1e" stroke-width="0.15" textLength="48.2" lengthAdjust="spacingAndGlyphs">E/V (vs Mg)</text>
<text transform="translate(17.2,73.5) rotate(-90)" font-family="Liberation Sans" font-size="9.8" text-anchor="middle" fill="#1e1e1e" stroke="#1e1e1e" stroke-width="0.15" textLength="95.2" lengthAdjust="spacingAndGlyphs">Current density (mA g<tspan font-size="6.08" dy="-3.72">-1</tspan><tspan dy="3.72">)</tspan></text>
<text transform="translate(6.7,15.8)" font-family="Liberation Sans" font-size="13.0" text-anchor="start" fill="#1e1e1e" stroke="#1e1e1e" stroke-width="0.15">(a)</text>
<rect x="229.24" y="23.43" width="2.6" height="2.6" fill="#111"/>
<circle cx="230.54" cy="38.04" r="1.45" fill="#e3121b"/>
<rect x="235.97" y="65.08" width="2.6" height="2.6" fill="#111"/>
<circle cx="237.27" cy="77.66" r="1.45" fill="#e3121b"/>
<rect x="242.71" y="76.98" width="2.6" height="2.6" fill="#111"/>
<circle cx="244.01" cy="86.11" r="1.45" fill="#e3121b"/>
<rect x="249.44" y="83.72" width="2.6" height="2.6" fill="#111"/>
<circle cx="250.74" cy="91.91" r="1.45" fill="#e3121b"/>
<rect x="256.18" y="87.79" width="2.6" height="2.6" fill="#111"/>
<circle cx="257.48" cy="96.92" r="1.45" fill="#e3121b"/>
<rect x="262.91" y="90.45" width="2.6" height="2.6" fill="#111"/>
<circle cx="264.21" cy="98.64" r="1.45" fill="#e3121b"/>
<rect x="269.64" y="92.96" width="2.6" height="2.6" fill="#111"/>
<circle cx="270.94" cy="100.21" r="1.45" fill="#e3121b"/>
<rect x="276.38" y="94.99" width="2.6" height="2.6" fill="#111"/>
<circle cx="277.68" cy="101.93" r="1.45" fill="#e3121b"/>
<rect x="283.12" y="98.44" width="2.6" height="2.6" fill="#111"/>
<circle cx="284.42" cy="103.65" r="1.45" fill="#e3121b"/>
<rect x="289.85" y="100.16" width="2.6" height="2.6" fill="#111"/>
<circle cx="291.15" cy="104.75" r="1.45" fill="#e3121b"/>
<rect x="296.58" y="100.63" width="2.6" height="2.6" fill="#111"/>
<circle cx="297.88" cy="106" r="1.45" fill="#e3121b"/>
<rect x="303.32" y="101.73" width="2.6" height="2.6" fill="#111"/>
<circle cx="304.62" cy="107.41" r="1.45" fill="#e3121b"/>
<rect x="310.06" y="103.14" width="2.6" height="2.6" fill="#111"/>
<circle cx="311.36" cy="108.51" r="1.45" fill="#e3121b"/>
<rect x="316.79" y="104.08" width="2.6" height="2.6" fill="#111"/>
<circle cx="318.09" cy="109.13" r="1.45" fill="#e3121b"/>
<rect x="323.53" y="104.7" width="2.6" height="2.6" fill="#111"/>
<circle cx="324.83" cy="109.76" r="1.45" fill="#e3121b"/>
<rect x="330.26" y="105.33" width="2.6" height="2.6" fill="#111"/>
<circle cx="331.56" cy="110.07" r="1.45" fill="#e3121b"/>
<rect x="337" y="105.96" width="2.6" height="2.6" fill="#111"/>
<circle cx="338.3" cy="110.7" r="1.45" fill="#e3121b"/>
<rect x="343.73" y="106.89" width="2.6" height="2.6" fill="#111"/>
<circle cx="345.03" cy="111.64" r="1.45" fill="#e3121b"/>
<rect x="350.46" y="107.21" width="2.6" height="2.6" fill="#111"/>
<circle cx="351.76" cy="111.95" r="1.45" fill="#e3121b"/>
<rect x="357.2" y="108.15" width="2.6" height="2.6" fill="#111"/>
<circle cx="358.5" cy="112.42" r="1.45" fill="#e3121b"/>
<rect x="220.2" y="9.7" width="144.8" height="117.7" fill="none" stroke="#1c1c1c" stroke-width="1.3"/>
<line x1="220.2" y1="119.47" x2="222.4" y2="119.47" stroke="#1c1c1c" stroke-width="0.8" stroke-linecap="butt"/>
<line x1="220.2" y1="111.64" x2="222.4" y2="111.64" stroke="#1c1c1c" stroke-width="0.8" stroke-linecap="butt"/>
<line x1="220.2" y1="103.81" x2="222.4" y2="103.81" stroke="#1c1c1c" stroke-width="0.8" stroke-linecap="butt"/>
<line x1="220.2" y1="95.98" x2="222.4" y2="95.98" stroke="#1c1c1c" stroke-width="0.8" stroke-linecap="butt"/>
<line x1="220.2" y1="88.15" x2="222.4" y2="88.15" stroke="#1c1c1c" stroke-width="0.8" stroke-linecap="butt"/>
<line x1="220.2" y1="80.32" x2="222.4" y2="80.32" stroke="#1c1c1c" stroke-width="0.8" stroke-linecap="butt"/>
<line x1="220.2" y1="72.49" x2="222.4" y2="72.49" stroke="#1c1c1c" stroke-width="0.8" stroke-linecap="butt"/>
<line x1="220.2" y1="64.66" x2="222.4" y2="64.66" stroke="#1c1c1c" stroke-width="0.8" stroke-linecap="butt"/>
<line x1="220.2" y1="56.83" x2="222.4" y2="56.83" stroke="#1c1c1c" stroke-width="0.8" stroke-linecap="butt"/>
<line x1="220.2" y1="49" x2="222.4" y2="49" stroke="#1c1c1c" stroke-width="0.8" stroke-linecap="butt"/>
<line x1="220.2" y1="41.17" x2="222.4" y2="41.17" stroke="#1c1c1c" stroke-width="0.8" stroke-linecap="butt"/>
<line x1="220.2" y1="33.34" x2="222.4" y2="33.34" stroke="#1c1c1c" stroke-width="0.8" stroke-linecap="butt"/>
<line x1="220.2" y1="25.51" x2="222.4" y2="25.51" stroke="#1c1c1c" stroke-width="0.8" stroke-linecap="butt"/>
<line x1="240.64" y1="127.4" x2="240.64" y2="125.6" stroke="#1c1c1c" stroke-width="0.8" stroke-linecap="butt"/>
<line x1="257.48" y1="127.4" x2="257.48" y2="125.6" stroke="#1c1c1c" stroke-width="0.8" stroke-linecap="butt"/>
<line x1="274.31" y1="127.4" x2="274.31" y2="125.6" stroke="#1c1c1c" stroke-width="0.8" stroke-linecap="butt"/>
<line x1="291.15" y1="127.4" x2="291.15" y2="125.6" stroke="#1c1c1c" stroke-width="0.8" stroke-linecap="butt"/>
<line x1="307.99" y1="127.4" x2="307.99" y2="125.6" stroke="#1c1c1c" stroke-width="0.8" stroke-linecap="butt"/>
<line x1="324.83" y1="127.4" x2="324.83" y2="125.6" stroke="#1c1c1c" stroke-width="0.8" stroke-linecap="butt"/>
<line x1="341.66" y1="127.4" x2="341.66" y2="125.6" stroke="#1c1c1c" stroke-width="0.8" stroke-linecap="butt"/>
<line x1="358.5" y1="127.4" x2="358.5" y2="125.6" stroke="#1c1c1c" stroke-width="0.8" stroke-linecap="butt"/>
<text transform="translate(219.4,130.57)" font-family="Liberation Sans" font-size="9.0" text-anchor="end" fill="#1e1e1e" stroke="#1e1e1e" stroke-width="0.15">0</text>
<text transform="translate(219.4,115.01)" font-family="Liberation Sans" font-size="9.0" text-anchor="end" fill="#1e1e1e" stroke="#1e1e1e" stroke-width="0.15">100</text>
<text transform="translate(219.4,99.45)" font-family="Liberation Sans" font-size="9.0" text-anchor="end" fill="#1e1e1e" stroke="#1e1e1e" stroke-width="0.15">200</text>
<text transform="translate(219.4,83.89)" font-family="Liberation Sans" font-size="9.0" text-anchor="end" fill="#1e1e1e" stroke="#1e1e1e" stroke-width="0.15">300</text>
<text transform="translate(219.4,68.33)" font-family="Liberation Sans" font-size="9.0" text-anchor="end" fill="#1e1e1e" stroke="#1e1e1e" stroke-width="0.15">400</text>
<text transform="translate(219.4,52.77)" font-family="Liberation Sans" font-size="9.0" text-anchor="end" fill="#1e1e1e" stroke="#1e1e1e" stroke-width="0.15">500</text>
<text transform="translate(219.4,37.21)" font-family="Liberation Sans" font-size="9.0" text-anchor="end" fill="#1e1e1e" stroke="#1e1e1e" stroke-width="0.15">600</text>
<text transform="translate(219.4,21.65)" font-family="Liberation Sans" font-size="9.0" text-anchor="end" fill="#1e1e1e" stroke="#1e1e1e" stroke-width="0.15">700</text>
<text transform="translate(223.8,136.97)" font-family="Liberation Sans" font-size="9.0" text-anchor="middle" fill="#1e1e1e" stroke="#1e1e1e" stroke-width="0.15">0</text>
<text transform="translate(257.3,136.97)" font-family="Liberation Sans" font-size="9.0" text-anchor="middle" fill="#1e1e1e" stroke="#1e1e1e" stroke-width="0.15">5</text>
<text transform="translate(291.8,136.97)" font-family="Liberation Sans" font-size="9.0" text-anchor="middle" fill="#1e1e1e" stroke="#1e1e1e" stroke-width="0.15">10</text>
<text transform="translate(324.8,136.97)" font-family="Liberation Sans" font-size="9.0" text-anchor="middle" fill="#1e1e1e" stroke="#1e1e1e" stroke-width="0.15">15</text>
<text transform="translate(358.5,136.97)" font-family="Liberation Sans" font-size="9.0" text-anchor="middle" fill="#1e1e1e" stroke="#1e1e1e" stroke-width="0.15">20</text>
<text transform="translate(285,146)" font-family="Liberation Sans" font-size="9.8" text-anchor="middle" fill="#1e1e1e" stroke="#1e1e1e" stroke-width="0.15" textLength="58.2" lengthAdjust="spacingAndGlyphs">Cycle number</text>
<text transform="translate(199.9,73.7) rotate(-90)" font-family="Liberation Sans" font-size="9.8" text-anchor="middle" fill="#1e1e1e" stroke="#1e1e1e" stroke-width="0.15" textLength="109.2" lengthAdjust="spacingAndGlyphs">Discharge capacity (mA g<tspan font-size="6.08" dy="-3.72">-1</tspan><tspan dy="3.72">)</tspan></text>
<text transform="translate(187.6,15.8)" font-family="Liberation Sans" font-size="13.0" text-anchor="start" fill="#1e1e1e" stroke="#1e1e1e" stroke-width="0.15">(b)</text>
<rect x="272.2" y="13.4" width="87.0" height="65.6" fill="#fff" stroke="#a8a8a8" stroke-width="1"/>
<rect x="276.87" y="41.75" width="1.7" height="1.7" fill="#111"/>
<circle cx="277.72" cy="44.37" r="1" fill="#e3121b"/>
<rect x="280.99" y="22.87" width="1.7" height="1.7" fill="#111"/>
<circle cx="281.84" cy="21.95" r="1" fill="#e3121b"/>
<rect x="285.11" y="21.69" width="1.7" height="1.7" fill="#111"/>
<circle cx="285.96" cy="23.13" r="1" fill="#e3121b"/>
<rect x="289.23" y="19.92" width="1.7" height="1.7" fill="#111"/>
<circle cx="290.08" cy="23.13" r="1" fill="#e3121b"/>
<rect x="293.35" y="19.33" width="1.7" height="1.7" fill="#111"/>
<circle cx="294.2" cy="16.64" r="1" fill="#e3121b"/>
<rect x="297.47" y="18.74" width="1.7" height="1.7" fill="#111"/>
<circle cx="298.32" cy="19" r="1" fill="#e3121b"/>
<rect x="301.59" y="19.92" width="1.7" height="1.7" fill="#111"/>
<circle cx="302.44" cy="19.59" r="1" fill="#e3121b"/>
<rect x="305.71" y="19.92" width="1.7" height="1.7" fill="#111"/>
<circle cx="306.56" cy="20.18" r="1" fill="#e3121b"/>
<rect x="309.83" y="18.15" width="1.7" height="1.7" fill="#111"/>
<circle cx="310.68" cy="19" r="1" fill="#e3121b"/>
<rect x="313.95" y="18.15" width="1.7" height="1.7" fill="#111"/>
<circle cx="314.8" cy="19" r="1" fill="#e3121b"/>
<rect x="318.07" y="19.33" width="1.7" height="1.7" fill="#111"/>
<circle cx="318.92" cy="20.77" r="1" fill="#e3121b"/>
<rect x="322.19" y="17.56" width="1.7" height="1.7" fill="#111"/>
<circle cx="323.04" cy="19" r="1" fill="#e3121b"/>
<rect x="326.31" y="18.74" width="1.7" height="1.7" fill="#111"/>
<circle cx="327.16" cy="19.59" r="1" fill="#e3121b"/>
<rect x="330.43" y="18.15" width="1.7" height="1.7" fill="#111"/>
<circle cx="331.28" cy="19" r="1" fill="#e3121b"/>
<rect x="334.55" y="18.15" width="1.7" height="1.7" fill="#111"/>
<circle cx="335.4" cy="19" r="1" fill="#e3121b"/>
<rect x="338.67" y="17.56" width="1.7" height="1.7" fill="#111"/>
<circle cx="339.52" cy="19" r="1" fill="#e3121b"/>
<rect x="342.79" y="18.74" width="1.7" height="1.7" fill="#111"/>
<circle cx="343.64" cy="19.59" r="1" fill="#e3121b"/>
<rect x="346.91" y="18.74" width="1.7" height="1.7" fill="#111"/>
<circle cx="347.76" cy="19" r="1" fill="#e3121b"/>
<rect x="351.03" y="18.15" width="1.7" height="1.7" fill="#111"/>
<circle cx="351.88" cy="19" r="1" fill="#e3121b"/>
<rect x="355.15" y="18.15" width="1.7" height="1.7" fill="#111"/>
<circle cx="356" cy="19.59" r="1" fill="#e3121b"/>
<text transform="translate(270.5,79.19)" font-family="Liberation Serif" font-size="3.6" text-anchor="end" fill="#555" stroke="#555" stroke-width="0.15">0</text>
<line x1="272.2" y1="78" x2="273.4" y2="78" stroke="#666" stroke-width="0.5" stroke-linecap="butt"/>
<text transform="translate(270.5,67.39)" font-family="Liberation Serif" font-size="3.6" text-anchor="end" fill="#555" stroke="#555" stroke-width="0.15">20</text>
<line x1="272.2" y1="66.2" x2="273.4" y2="66.2" stroke="#666" stroke-width="0.5" stroke-linecap="butt"/>
<text transform="translate(270.5,55.59)" font-family="Liberation Serif" font-size="3.6" text-anchor="end" fill="#555" stroke="#555" stroke-width="0.15">40</text>
<line x1="272.2" y1="54.4" x2="273.4" y2="54.4" stroke="#666" stroke-width="0.5" stroke-linecap="butt"/>
<text transform="translate(270.5,43.79)" font-family="Liberation Serif" font-size="3.6" text-anchor="end" fill="#555" stroke="#555" stroke-width="0.15">60</text>
<line x1="272.2" y1="42.6" x2="273.4" y2="42.6" stroke="#666" stroke-width="0.5" stroke-linecap="butt"/>
<text transform="translate(270.5,31.99)" font-family="Liberation Serif" font-size="3.6" text-anchor="end" fill="#555" stroke="#555" stroke-width="0.15">80</text>
<line x1="272.2" y1="30.8" x2="273.4" y2="30.8" stroke="#666" stroke-width="0.5" stroke-linecap="butt"/>
<text transform="translate(270.5,20.19)" font-family="Liberation Serif" font-size="3.6" text-anchor="end" fill="#555" stroke="#555" stroke-width="0.15">100</text>
<line x1="272.2" y1="19" x2="273.4" y2="19" stroke="#666" stroke-width="0.5" stroke-linecap="butt"/>
<text transform="translate(273.6,83.05)" font-family="Liberation Serif" font-size="3.8" text-anchor="middle" fill="#555" stroke="#555" stroke-width="0.15">0</text>
<text transform="translate(294.2,83.05)" font-family="Liberation Serif" font-size="3.8" text-anchor="middle" fill="#555" stroke="#555" stroke-width="0.15">5</text>
<text transform="translate(314.8,83.05)" font-family="Liberation Serif" font-size="3.8" text-anchor="middle" fill="#555" stroke="#555" stroke-width="0.15">10</text>
<text transform="translate(335.4,83.05)" font-family="Liberation Serif" font-size="3.8" text-anchor="middle" fill="#555" stroke="#555" stroke-width="0.15">15</text>
<text transform="translate(356,83.05)" font-family="Liberation Serif" font-size="3.8" text-anchor="middle" fill="#555" stroke="#555" stroke-width="0.15">20</text>
<text transform="translate(262,46.6) rotate(-90)" font-family="Liberation Serif" font-size="5.2" font-weight="bold" text-anchor="middle" fill="#333" stroke="#333" stroke-width="0.15" textLength="43" lengthAdjust="spacingAndGlyphs">Coulombic efficiency</text>
<rect x="316.1" y="43.5" width="2.2" height="2.2" fill="#111"/>
<circle cx="317.2" cy="52.9" r="1.3" fill="#e3121b"/>
<text transform="translate(325.4,47)" font-family="Liberation Serif" font-size="6.6" font-weight="bold" text-anchor="start" fill="#222" stroke="#222" stroke-width="0.15">10 mA g<tspan font-size="3.8" dy="-2.2">-1</tspan></text>
<text transform="translate(325.4,55.3)" font-family="Liberation Serif" font-size="6.6" font-weight="bold" text-anchor="start" fill="#222" stroke="#222" stroke-width="0.15">20 mA g<tspan font-size="3.8" dy="-2.2">-1</tspan></text>
<path d="M406.8,24.1 C406.95,25.27 406.85,28.68 407.7,31.1 C408.55,33.52 410.5,36.03 411.9,38.6 C413.3,41.17 414.92,43.98 416.1,46.5 C417.28,49.02 418.52,52.5 419,53.7" fill="none" stroke="#5a6ad8" stroke-width="0.7" stroke-linecap="butt" stroke-linejoin="round"/>
<path d="M416.1,67.8 C418.42,67.97 425.07,68.33 430,68.8 C434.93,69.27 442.62,69.4 445.7,70.6 C448.78,71.8 447.55,73.42 448.5,76 C449.45,78.58 449.98,83.47 451.4,86.1 C452.82,88.73 453.25,89.45 457,91.8 C460.75,94.15 467.08,95.98 473.9,100.2 C480.72,104.42 493.9,114.28 497.9,117.1" fill="none" stroke="#5a6ad8" stroke-width="0.7" stroke-linecap="butt" stroke-linejoin="round"/>
<path d="M406.8,112 C407.08,107 407.65,90.42 408.5,82 C409.35,73.58 410.63,65.83 411.9,61.5 C413.17,57.17 412.8,57.42 416.1,56 C419.4,54.58 425.82,54.55 431.7,53 C437.58,51.45 445.77,48.95 451.4,46.7 C457.03,44.45 460.8,42.1 465.5,39.5 C470.2,36.9 474.43,33.77 479.6,31.1 C484.77,28.43 492.27,25.23 496.5,23.5 C500.73,21.77 503.58,21.17 505,20.7" fill="none" stroke="#5a6ad8" stroke-width="0.7" stroke-linecap="butt" stroke-linejoin="round"/>
<line x1="417.5" y1="53" x2="417.5" y2="67" stroke="#9aa0d8" stroke-width="0.8" stroke-dasharray="1,1.5" stroke-linecap="butt"/>
<path d="M406.8,24.1 C406.95,25.27 406.85,28.75 407.7,31.1 C408.55,33.45 410.5,35.6 411.9,38.2 C413.3,40.8 414.92,44.12 416.1,46.7 C417.28,49.28 418.52,52.53 419,53.7" fill="none" stroke="#e04848" stroke-width="0.7" stroke-linecap="butt" stroke-linejoin="round"/>
<line x1="419" y1="53.7" x2="419" y2="66.4" stroke="#e04848" stroke-width="0.9" stroke-dasharray="1.6,1.2" stroke-linecap="butt"/>
<path d="M416.1,67.8 C419.63,68.03 430.95,68.5 437.3,69.2 C443.65,69.9 450.45,70.58 454.2,72 C457.95,73.42 458.15,75.35 459.8,77.7 C461.45,80.05 462.22,83.28 464.1,86.1 C465.98,88.92 468.05,91.3 471.1,94.6 C474.15,97.9 477.93,102.15 482.4,105.9 C486.87,109.65 495.32,115.23 497.9,117.1" fill="none" stroke="#e04848" stroke-width="0.7" stroke-linecap="butt" stroke-linejoin="round"/>
<path d="M406.8,111.5 C407.08,106.33 407.65,88.97 408.5,80.5 C409.35,72.03 410.63,64.93 411.9,60.7 C413.17,56.47 412.8,56.5 416.1,55.1 C419.4,53.7 425.82,54.18 431.7,52.3 C437.58,50.42 445.77,46.62 451.4,43.8 C457.03,40.98 460.8,38.22 465.5,35.4 C470.2,32.58 474.43,29.17 479.6,26.9 C484.77,24.63 492.52,22.83 496.5,21.8 C500.48,20.77 502.33,20.88 503.5,20.7" fill="none" stroke="#e04848" stroke-width="0.7" stroke-linecap="butt" stroke-linejoin="round"/>
<path d="M408.2,61 C408.37,60.33 408.82,58.45 409.2,57 C409.58,55.55 409.35,54.12 410.5,52.3 C411.65,50.48 413.98,47.52 416.1,46.1 C418.22,44.68 420.85,43.95 423.2,43.8 C425.55,43.65 428.32,44.25 430.2,45.2 C432.08,46.15 433.78,48.78 434.5,49.5" fill="none" stroke="#2a2a2a" stroke-width="0.8" stroke-linecap="butt" stroke-linejoin="round"/>
<line x1="406.8" y1="57.5" x2="408.2" y2="61.5" stroke="#2a2a2a" stroke-width="0.8" stroke-linecap="butt"/>
<path d="M434.5,49.5 L435,58 L435.3,69.2" fill="none" stroke="#2a2a2a" stroke-width="0.8" stroke-linecap="butt" stroke-linejoin="round"/>
<path d="M435.3,69.2 C437.98,69.3 445.9,69.57 451.4,69.8 C456.9,70.03 463.83,70 468.3,70.6 C472.77,71.2 475.38,72.22 478.2,73.4 C481.02,74.58 483.08,75.95 485.2,77.7 C487.32,79.45 488.32,82.03 490.9,83.9 C493.48,85.77 498.12,86.65 500.7,88.9 C503.28,91.15 504.28,94.82 506.4,97.4 C508.52,99.98 511.05,101.82 513.4,104.4 C515.75,106.98 518.15,110.55 520.5,112.9 C522.85,115.25 526.33,117.57 527.5,118.5" fill="none" stroke="#2a2a2a" stroke-width="0.8" stroke-linecap="butt" stroke-linejoin="round"/>
<path d="M406.8,114.3 C406.95,109.13 407.22,91.28 407.7,83.3 C408.18,75.32 408.9,70.87 409.7,66.4 C410.5,61.93 411.18,58.62 412.5,56.5 C413.82,54.38 414.4,54.63 417.6,53.7 C420.8,52.77 428.18,52.07 431.7,50.9 C435.22,49.73 436.12,47.97 438.7,46.7 C441.28,45.43 444.62,44.72 447.2,43.3 C449.78,41.88 451.85,40.23 454.2,38.2 C456.55,36.17 459.18,33.22 461.3,31.1 C463.42,28.98 463.85,26.9 466.9,25.5 C469.95,24.1 475.37,23.32 479.6,22.7 C483.83,22.08 488.07,22.13 492.3,21.8 C496.53,21.47 502.88,20.88 505,20.7" fill="none" stroke="#2a2a2a" stroke-width="0.8" stroke-linecap="butt" stroke-linejoin="round"/>
<rect x="395.5" y="12.5" width="140.8" height="113.9" fill="none" stroke="#1c1c1c" stroke-width="1.3"/>
<line x1="395.5" y1="118.5" x2="397.7" y2="118.5" stroke="#1c1c1c" stroke-width="0.8" stroke-linecap="butt"/>
<line x1="395.5" y1="110.4" x2="397.7" y2="110.4" stroke="#1c1c1c" stroke-width="0.8" stroke-linecap="butt"/>
<line x1="395.5" y1="102.3" x2="397.7" y2="102.3" stroke="#1c1c1c" stroke-width="0.8" stroke-linecap="butt"/>
<line x1="395.5" y1="94.2" x2="397.7" y2="94.2" stroke="#1c1c1c" stroke-width="0.8" stroke-linecap="butt"/>
<line x1="395.5" y1="86.1" x2="397.7" y2="86.1" stroke="#1c1c1c" stroke-width="0.8" stroke-linecap="butt"/>
<line x1="395.5" y1="78" x2="397.7" y2="78" stroke="#1c1c1c" stroke-width="0.8" stroke-linecap="butt"/>
<line x1="395.5" y1="69.9" x2="397.7" y2="69.9" stroke="#1c1c1c" stroke-width="0.8" stroke-linecap="butt"/>
<line x1="395.5" y1="61.8" x2="397.7" y2="61.8" stroke="#1c1c1c" stroke-width="0.8" stroke-linecap="butt"/>
<line x1="395.5" y1="53.7" x2="397.7" y2="53.7" stroke="#1c1c1c" stroke-width="0.8" stroke-linecap="butt"/>
<line x1="395.5" y1="45.6" x2="397.7" y2="45.6" stroke="#1c1c1c" stroke-width="0.8" stroke-linecap="butt"/>
<line x1="395.5" y1="37.5" x2="397.7" y2="37.5" stroke="#1c1c1c" stroke-width="0.8" stroke-linecap="butt"/>
<line x1="395.5" y1="29.4" x2="397.7" y2="29.4" stroke="#1c1c1c" stroke-width="0.8" stroke-linecap="butt"/>
<line x1="395.5" y1="21.3" x2="397.7" y2="21.3" stroke="#1c1c1c" stroke-width="0.8" stroke-linecap="butt"/>
<line x1="418.6" y1="126.4" x2="418.6" y2="124.2" stroke="#1c1c1c" stroke-width="0.8" stroke-linecap="butt"/>
<line x1="430.4" y1="126.4" x2="430.4" y2="124.2" stroke="#1c1c1c" stroke-width="0.8" stroke-linecap="butt"/>
<line x1="442.2" y1="126.4" x2="442.2" y2="124.2" stroke="#1c1c1c" stroke-width="0.8" stroke-linecap="butt"/>
<line x1="454" y1="126.4" x2="454" y2="124.2" stroke="#1c1c1c" stroke-width="0.8" stroke-linecap="butt"/>
<line x1="465.8" y1="126.4" x2="465.8" y2="124.2" stroke="#1c1c1c" stroke-width="0.8" stroke-linecap="butt"/>
<line x1="477.6" y1="126.4" x2="477.6" y2="124.2" stroke="#1c1c1c" stroke-width="0.8" stroke-linecap="butt"/>
<line x1="489.4" y1="126.4" x2="489.4" y2="124.2" stroke="#1c1c1c" stroke-width="0.8" stroke-linecap="butt"/>
<line x1="501.2" y1="126.4" x2="501.2" y2="124.2" stroke="#1c1c1c" stroke-width="0.8" stroke-linecap="butt"/>
<line x1="513" y1="126.4" x2="513" y2="124.2" stroke="#1c1c1c" stroke-width="0.8" stroke-linecap="butt"/>
<line x1="524.8" y1="126.4" x2="524.8" y2="124.2" stroke="#1c1c1c" stroke-width="0.8" stroke-linecap="butt"/>
<text transform="translate(394.3,129.57)" font-family="Liberation Sans" font-size="9.0" text-anchor="end" fill="#1e1e1e" stroke="#1e1e1e" stroke-width="0.15">0.4</text>
<text transform="translate(394.3,113.37)" font-family="Liberation Sans" font-size="9.0" text-anchor="end" fill="#1e1e1e" stroke="#1e1e1e" stroke-width="0.15">0.6</text>
<text transform="translate(394.3,97.17)" font-family="Liberation Sans" font-size="9.0" text-anchor="end" fill="#1e1e1e" stroke="#1e1e1e" stroke-width="0.15">0.8</text>
<text transform="translate(394.3,80.97)" font-family="Liberation Sans" font-size="9.0" text-anchor="end" fill="#1e1e1e" stroke="#1e1e1e" stroke-width="0.15">1.0</text>
<text transform="translate(394.3,64.77)" font-family="Liberation Sans" font-size="9.0" text-anchor="end" fill="#1e1e1e" stroke="#1e1e1e" stroke-width="0.15">1.2</text>
<text transform="translate(394.3,48.57)" font-family="Liberation Sans" font-size="9.0" text-anchor="end" fill="#1e1e1e" stroke="#1e1e1e" stroke-width="0.15">1.4</text>
<text transform="translate(394.3,32.37)" font-family="Liberation Sans" font-size="9.0" text-anchor="end" fill="#1e1e1e" stroke="#1e1e1e" stroke-width="0.15">1.6</text>
<text transform="translate(394.3,16.17)" font-family="Liberation Sans" font-size="9.0" text-anchor="end" fill="#1e1e1e" stroke="#1e1e1e" stroke-width="0.15">1.8</text>
<text transform="translate(406.8,135.57)" font-family="Liberation Sans" font-size="9.0" text-anchor="middle" fill="#1e1e1e" stroke="#1e1e1e" stroke-width="0.15">0</text>
<text transform="translate(430.2,135.57)" font-family="Liberation Sans" font-size="9.0" text-anchor="middle" fill="#1e1e1e" stroke="#1e1e1e" stroke-width="0.15">100</text>
<text transform="translate(454.2,135.57)" font-family="Liberation Sans" font-size="9.0" text-anchor="middle" fill="#1e1e1e" stroke="#1e1e1e" stroke-width="0.15">200</text>
<text transform="translate(477.3,135.57)" font-family="Liberation Sans" font-size="9.0" text-anchor="middle" fill="#1e1e1e" stroke="#1e1e1e" stroke-width="0.15">300</text>
<text transform="translate(501.5,135.57)" font-family="Liberation Sans" font-size="9.0" text-anchor="middle" fill="#1e1e1e" stroke="#1e1e1e" stroke-width="0.15">400</text>
<text transform="translate(524.6,135.57)" font-family="Liberation Sans" font-size="9.0" text-anchor="middle" fill="#1e1e1e" stroke="#1e1e1e" stroke-width="0.15">500</text>
<text transform="translate(457.5,147.2)" font-family="Liberation Sans" font-size="9.8" text-anchor="middle" fill="#1e1e1e" stroke="#1e1e1e" stroke-width="0.15" textLength="73.6" lengthAdjust="spacingAndGlyphs">Capacity (mA g<tspan font-size="6.08" dy="-3.72">-1</tspan><tspan dy="3.72">)</tspan></text>
<text transform="translate(380,73.45) rotate(-90)" font-family="Liberation Sans" font-size="9.8" text-anchor="middle" fill="#1e1e1e" stroke="#1e1e1e" stroke-width="0.15" textLength="69.3" lengthAdjust="spacingAndGlyphs">Cell potential (V)</text>
<text transform="translate(367.9,15.8)" font-family="Liberation Sans" font-size="13.0" text-anchor="start" fill="#1e1e1e" stroke="#1e1e1e" stroke-width="0.15">(c)</text>
<line x1="495.1" y1="43.3" x2="506.4" y2="43.3" stroke="#8a8a8a" stroke-width="1.7" stroke-linecap="butt"/>
<line x1="495.1" y1="52.9" x2="506.4" y2="52.9" stroke="#e05a5a" stroke-width="0.9" stroke-dasharray="1.6,1.3" stroke-linecap="butt"/>
<line x1="495.1" y1="62.2" x2="506.4" y2="62.2" stroke="#b8b8c8" stroke-width="1.3" stroke-dasharray="1,1" stroke-linecap="butt"/>
<text transform="translate(509.2,44.7) scale(0.93,1.0)" font-family="Liberation Sans" font-size="8.48" font-weight="bold" text-anchor="start" fill="#1e1e1e" stroke="#1e1e1e" stroke-width="0.18">1st</text>
<text transform="translate(509.2,54.7) scale(0.93,1.0)" font-family="Liberation Sans" font-size="8.48" font-weight="bold" text-anchor="start" fill="#1e1e1e" stroke="#1e1e1e" stroke-width="0.18">2nd</text>
<text transform="translate(509.2,64.3) scale(0.93,1.0)" font-family="Liberation Sans" font-size="8.48" font-weight="bold" text-anchor="start" fill="#1e1e1e" stroke="#1e1e1e" stroke-width="0.18">3rd</text>
<path d="M39.5,162.3 C40.33,163.5 42.93,167.08 44.5,169.5 C46.07,171.92 47.43,174.85 48.9,176.8 C50.37,178.75 51.6,180.35 53.3,181.2 C55,182.05 56.68,181.53 59.1,181.9 C61.52,182.27 64.17,182.8 67.8,183.4 C71.43,184 76.28,184.17 80.9,185.5 C85.52,186.83 91.48,189.93 95.5,191.4 C99.52,192.87 102.58,193.37 105,194.3 C107.42,195.23 105.88,195.43 110,197 C114.12,198.57 126.42,202.58 129.7,203.7" fill="none" stroke="#e82020" stroke-width="1.3" stroke-dasharray="3.4,2.8" stroke-linecap="butt" stroke-linejoin="round"/>
<path d="M39.5,201.5 C40.1,199.08 41.77,190.5 43.1,187 C44.43,183.5 45.8,182.2 47.5,180.5 C49.2,178.8 50.88,177.65 53.3,176.8 C55.72,175.95 58.62,175.77 62,175.4 C65.38,175.03 69.23,174.85 73.6,174.6 C77.97,174.35 82.97,174.25 88.2,173.9 C93.43,173.55 98.57,173.58 105,172.5 C111.43,171.42 118.8,169.23 126.8,167.4 C134.8,165.57 148.05,162.57 153,161.5 C157.95,160.43 155.92,161.08 156.5,161" fill="none" stroke="#e82020" stroke-width="1.3" stroke-dasharray="3.4,2.8" stroke-linecap="butt" stroke-linejoin="round"/>
<path d="M39.5,161.5 C40.33,163.08 42.68,167.72 44.5,171 C46.32,174.28 47.97,179.27 50.4,181.2 C52.83,183.13 55.23,181.88 59.1,182.6 C62.97,183.32 68.75,184.03 73.6,185.5 C78.45,186.97 82.97,189.45 88.2,191.4 C93.43,193.35 101.37,195.75 105,197.2 C108.63,198.65 107.92,199.03 110,200.1 C112.08,201.17 116.25,203.02 117.5,203.6" fill="none" stroke="#3a50e0" stroke-width="1.3" stroke-dasharray="1.2,2.6" stroke-linecap="butt" stroke-linejoin="round"/>
<path d="M39.5,202.5 C40,200.25 41.25,192.5 42.5,189 C43.75,185.5 45.25,183.42 47,181.5 C48.75,179.58 50.5,178.42 53,177.5 C55.5,176.58 58.57,176.35 62,176 C65.43,175.65 69.23,175.65 73.6,175.4 C77.97,175.15 82.97,174.9 88.2,174.5 C93.43,174.1 98.57,174.08 105,173 C111.43,171.92 119.3,169.75 126.8,168 C134.3,166.25 146.13,163.42 150,162.5" fill="none" stroke="#3a50e0" stroke-width="1.3" stroke-dasharray="1.2,2.6" stroke-linecap="butt" stroke-linejoin="round"/>
<path d="M39.5,172.5 C39.85,172.85 40.77,174.6 41.6,174.6 C42.43,174.6 42.8,172.9 44.5,172.5 C46.2,172.1 49,172.08 51.8,172.2 C54.6,172.32 59.12,172.43 61.3,173.2 C63.48,173.97 63.57,175.83 64.9,176.8 C66.23,177.77 68.2,178.03 69.3,179 C70.4,179.97 70.78,181.95 71.5,182.6 C72.22,183.25 69.6,182.7 73.6,182.9 C77.6,183.1 90.65,183.37 95.5,183.8 C100.35,184.23 101.02,184.85 102.7,185.5 C104.38,186.15 104.38,187.17 105.6,187.7 C106.82,188.23 106.47,188.33 110,188.7 C113.53,189.07 121.57,188.97 126.8,189.9 C132.03,190.83 135.33,192 141.4,194.3 C147.47,196.6 159.57,202.13 163.2,203.7" fill="none" stroke="#1a1a1a" stroke-width="1.1" stroke-linecap="butt" stroke-linejoin="round"/>
<path d="M39.5,203 C39.85,200.58 40.52,192.25 41.6,188.5 C42.68,184.75 44.3,182.45 46,180.5 C47.7,178.55 49.62,177.65 51.8,176.8 C53.98,175.95 56.92,175.77 59.1,175.4 C61.28,175.03 62.48,174.9 64.9,174.6 C67.32,174.3 66.92,174.57 73.6,173.6 C80.28,172.63 96.13,170.08 105,168.8 C113.87,167.52 120.73,166.87 126.8,165.9 C132.87,164.93 136.07,163.8 141.4,163 C146.73,162.2 155.9,161.42 158.8,161.1" fill="none" stroke="#1a1a1a" stroke-width="1.1" stroke-linecap="butt" stroke-linejoin="round"/>
<path d="M39.5,217.3 C40.1,218.15 41.9,220.83 43.1,222.4 C44.3,223.97 45.48,224.4 46.7,226.7 C47.92,229 48.33,234.13 50.4,236.2 C52.47,238.27 56.68,237.88 59.1,239.1 C61.52,240.32 63.45,241.8 64.9,243.5 C66.35,245.2 66.35,247.62 67.8,249.3 C69.25,250.98 71.17,252.4 73.6,253.6 C76.03,254.8 79,255.4 82.4,256.5 C85.8,257.6 92.07,259.58 94,260.2" fill="none" stroke="#e82020" stroke-width="1.3" stroke-dasharray="3.4,2.8" stroke-linecap="butt" stroke-linejoin="round"/>
<path d="M39.5,256.5 C39.85,253.12 40.52,240.32 41.6,236.2 C42.68,232.08 43.08,232.77 46,231.8 C48.92,230.83 55.22,231.25 59.1,230.4 C62.98,229.55 66.4,228.28 69.3,226.7 C72.2,225.12 73.83,222.6 76.5,220.9 C79.17,219.2 82.63,217.35 85.3,216.5 C87.97,215.65 91.3,215.92 92.5,215.8" fill="none" stroke="#e82020" stroke-width="1.3" stroke-dasharray="3.4,2.8" stroke-linecap="butt" stroke-linejoin="round"/>
<path d="M39.5,216.5 C40.58,219.78 43.7,232.43 46,236.2 C48.3,239.97 51.37,237.4 53.3,239.1 C55.23,240.8 56.15,244.22 57.6,246.4 C59.05,248.58 59.82,250.52 62,252.2 C64.18,253.88 67.07,255.17 70.7,256.5 C74.33,257.83 81.62,259.58 83.8,260.2" fill="none" stroke="#3a50e0" stroke-width="1.3" stroke-dasharray="1.2,2.6" stroke-linecap="butt" stroke-linejoin="round"/>
<path d="M39.5,256 C39.85,252.67 40.52,240.08 41.6,236 C42.68,231.92 43.08,232.92 46,231.5 C48.92,230.08 54.98,229.27 59.1,227.5 C63.22,225.73 67.07,222.97 70.7,220.9 C74.33,218.83 79.2,216.07 80.9,215.1" fill="none" stroke="#3a50e0" stroke-width="1.3" stroke-dasharray="1.2,2.6" stroke-linecap="butt" stroke-linejoin="round"/>
<path d="M39.5,221.6 C40.33,222.08 43.17,223.52 44.5,224.5 C45.83,225.48 46.8,226.42 47.5,227.5 C48.2,228.58 48.4,229.83 48.7,231 C49,232.17 49.12,233.52 49.3,234.5 C49.48,235.48 49.38,236.43 49.8,236.9 C50.22,237.37 47.83,237.13 51.8,237.3 C55.77,237.47 65.6,237.37 73.6,237.9 C81.6,238.43 94.95,239.7 99.8,240.5 C104.65,241.3 101.73,241.23 102.7,242.7 C103.67,244.17 104.38,247.48 105.6,249.3 C106.82,251.12 108.33,252.63 110,253.6 C111.67,254.57 113.1,254.32 115.6,255.1 C118.1,255.88 121.68,257.3 125,258.25 C128.32,259.2 133.75,260.38 135.5,260.8" fill="none" stroke="#1a1a1a" stroke-width="1.1" stroke-linecap="butt" stroke-linejoin="round"/>
<path d="M39.5,258 C39.73,256.07 40.3,250.4 40.9,246.4 C41.5,242.4 42.25,236.43 43.1,234 C43.95,231.57 44.78,232.28 46,231.8 C47.22,231.32 48.22,231.47 50.4,231.1 C52.58,230.73 55.72,230.45 59.1,229.6 C62.48,228.75 67.55,227.57 70.7,226 C73.85,224.43 75.08,221.85 78,220.2 C80.92,218.55 84.8,216.88 88.2,216.1 C91.6,215.32 96.7,215.6 98.4,215.5" fill="none" stroke="#1a1a1a" stroke-width="1.1" stroke-linecap="butt" stroke-linejoin="round"/>
<rect x="31.9" y="157" width="152.6" height="50" fill="none" stroke="#1c1c1c" stroke-width="1.3"/>
<rect x="31.9" y="211.5" width="152.6" height="52.1" fill="none" stroke="#1c1c1c" stroke-width="1.3"/>
<line x1="31.9" y1="164.3" x2="34.1" y2="164.3" stroke="#1c1c1c" stroke-width="0.8" stroke-linecap="butt"/>
<line x1="31.9" y1="171.6" x2="34.1" y2="171.6" stroke="#1c1c1c" stroke-width="0.8" stroke-linecap="butt"/>
<line x1="31.9" y1="178.9" x2="34.1" y2="178.9" stroke="#1c1c1c" stroke-width="0.8" stroke-linecap="butt"/>
<line x1="31.9" y1="186.2" x2="34.1" y2="186.2" stroke="#1c1c1c" stroke-width="0.8" stroke-linecap="butt"/>
<line x1="31.9" y1="193.6" x2="34.1" y2="193.6" stroke="#1c1c1c" stroke-width="0.8" stroke-linecap="butt"/>
<line x1="31.9" y1="200.9" x2="34.1" y2="200.9" stroke="#1c1c1c" stroke-width="0.8" stroke-linecap="butt"/>
<line x1="31.9" y1="218.8" x2="34.1" y2="218.8" stroke="#1c1c1c" stroke-width="0.8" stroke-linecap="butt"/>
<line x1="31.9" y1="226.5" x2="34.1" y2="226.5" stroke="#1c1c1c" stroke-width="0.8" stroke-linecap="butt"/>
<line x1="31.9" y1="234.3" x2="34.1" y2="234.3" stroke="#1c1c1c" stroke-width="0.8" stroke-linecap="butt"/>
<line x1="31.9" y1="242" x2="34.1" y2="242" stroke="#1c1c1c" stroke-width="0.8" stroke-linecap="butt"/>
<line x1="31.9" y1="249.8" x2="34.1" y2="249.8" stroke="#1c1c1c" stroke-width="0.8" stroke-linecap="butt"/>
<line x1="31.9" y1="257.5" x2="34.1" y2="257.5" stroke="#1c1c1c" stroke-width="0.8" stroke-linecap="butt"/>
<line x1="39.1" y1="207" x2="39.1" y2="205.4" stroke="#1c1c1c" stroke-width="0.8" stroke-linecap="butt"/>
<line x1="52.2" y1="207" x2="52.2" y2="205.4" stroke="#1c1c1c" stroke-width="0.8" stroke-linecap="butt"/>
<line x1="65.3" y1="207" x2="65.3" y2="205.4" stroke="#1c1c1c" stroke-width="0.8" stroke-linecap="butt"/>
<line x1="78.4" y1="207" x2="78.4" y2="205.4" stroke="#1c1c1c" stroke-width="0.8" stroke-linecap="butt"/>
<line x1="91.5" y1="207" x2="91.5" y2="205.4" stroke="#1c1c1c" stroke-width="0.8" stroke-linecap="butt"/>
<line x1="104.6" y1="207" x2="104.6" y2="205.4" stroke="#1c1c1c" stroke-width="0.8" stroke-linecap="butt"/>
<line x1="117.7" y1="207" x2="117.7" y2="205.4" stroke="#1c1c1c" stroke-width="0.8" stroke-linecap="butt"/>
<line x1="130.8" y1="207" x2="130.8" y2="205.4" stroke="#1c1c1c" stroke-width="0.8" stroke-linecap="butt"/>
<line x1="143.9" y1="207" x2="143.9" y2="205.4" stroke="#1c1c1c" stroke-width="0.8" stroke-linecap="butt"/>
<line x1="157" y1="207" x2="157" y2="205.4" stroke="#1c1c1c" stroke-width="0.8" stroke-linecap="butt"/>
<line x1="170.1" y1="207" x2="170.1" y2="205.4" stroke="#1c1c1c" stroke-width="0.8" stroke-linecap="butt"/>
<line x1="39.1" y1="263.6" x2="39.1" y2="262" stroke="#1c1c1c" stroke-width="0.8" stroke-linecap="butt"/>
<line x1="52.2" y1="263.6" x2="52.2" y2="262" stroke="#1c1c1c" stroke-width="0.8" stroke-linecap="butt"/>
<line x1="65.3" y1="263.6" x2="65.3" y2="262" stroke="#1c1c1c" stroke-width="0.8" stroke-linecap="butt"/>
<line x1="78.4" y1="263.6" x2="78.4" y2="262" stroke="#1c1c1c" stroke-width="0.8" stroke-linecap="butt"/>
<line x1="91.5" y1="263.6" x2="91.5" y2="262" stroke="#1c1c1c" stroke-width="0.8" stroke-linecap="butt"/>
<line x1="104.6" y1="263.6" x2="104.6" y2="262" stroke="#1c1c1c" stroke-width="0.8" stroke-linecap="butt"/>
<line x1="117.7" y1="263.6" x2="117.7" y2="262" stroke="#1c1c1c" stroke-width="0.8" stroke-linecap="butt"/>
<line x1="130.8" y1="263.6" x2="130.8" y2="262" stroke="#1c1c1c" stroke-width="0.8" stroke-linecap="butt"/>
<line x1="143.9" y1="263.6" x2="143.9" y2="262" stroke="#1c1c1c" stroke-width="0.8" stroke-linecap="butt"/>
<line x1="157" y1="263.6" x2="157" y2="262" stroke="#1c1c1c" stroke-width="0.8" stroke-linecap="butt"/>
<line x1="170.1" y1="263.6" x2="170.1" y2="262" stroke="#1c1c1c" stroke-width="0.8" stroke-linecap="butt"/>
<text transform="translate(30.2,167.27)" font-family="Liberation Sans" font-size="9.0" text-anchor="end" fill="#1e1e1e" stroke="#1e1e1e" stroke-width="0.15">1.6</text>
<text transform="translate(30.2,181.87)" font-family="Liberation Sans" font-size="9.0" text-anchor="end" fill="#1e1e1e" stroke="#1e1e1e" stroke-width="0.15">1.2</text>
<text transform="translate(30.2,196.57)" font-family="Liberation Sans" font-size="9.0" text-anchor="end" fill="#1e1e1e" stroke="#1e1e1e" stroke-width="0.15">0.8</text>
<text transform="translate(30.2,210.67)" font-family="Liberation Sans" font-size="9.0" text-anchor="end" fill="#1e1e1e" stroke="#1e1e1e" stroke-width="0.15">0.4</text>
<text transform="translate(30.2,221.77)" font-family="Liberation Sans" font-size="9.0" text-anchor="end" fill="#1e1e1e" stroke="#1e1e1e" stroke-width="0.15">1.6</text>
<text transform="translate(30.2,237.27)" font-family="Liberation Sans" font-size="9.0" text-anchor="end" fill="#1e1e1e" stroke="#1e1e1e" stroke-width="0.15">1.2</text>
<text transform="translate(30.2,252.77)" font-family="Liberation Sans" font-size="9.0" text-anchor="end" fill="#1e1e1e" stroke="#1e1e1e" stroke-width="0.15">0.8</text>
<text transform="translate(30.2,268.27)" font-family="Liberation Sans" font-size="9.0" text-anchor="end" fill="#1e1e1e" stroke="#1e1e1e" stroke-width="0.15">0.4</text>
<text transform="translate(38.9,273.57)" font-family="Liberation Sans" font-size="9.0" text-anchor="middle" fill="#1e1e1e" stroke="#1e1e1e" stroke-width="0.15">0</text>
<text transform="translate(68,273.57)" font-family="Liberation Sans" font-size="9.0" text-anchor="middle" fill="#1e1e1e" stroke="#1e1e1e" stroke-width="0.15">200</text>
<text transform="translate(94.3,273.57)" font-family="Liberation Sans" font-size="9.0" text-anchor="middle" fill="#1e1e1e" stroke="#1e1e1e" stroke-width="0.15">400</text>
<text transform="translate(120.3,273.57)" font-family="Liberation Sans" font-size="9.0" text-anchor="middle" fill="#1e1e1e" stroke="#1e1e1e" stroke-width="0.15">600</text>
<text transform="translate(146.8,273.57)" font-family="Liberation Sans" font-size="9.0" text-anchor="middle" fill="#1e1e1e" stroke="#1e1e1e" stroke-width="0.15">800</text>
<text transform="translate(172.9,273.57)" font-family="Liberation Sans" font-size="9.0" text-anchor="middle" fill="#1e1e1e" stroke="#1e1e1e" stroke-width="0.15">1000</text>
<text transform="translate(105.95,282.8)" font-family="Liberation Sans" font-size="9.8" text-anchor="middle" fill="#1e1e1e" stroke="#1e1e1e" stroke-width="0.15" textLength="78.7" lengthAdjust="spacingAndGlyphs">Capacity (mAh g<tspan font-size="6.08" dy="-3.72">-1</tspan><tspan dy="3.72">)</tspan></text>
<text transform="translate(16.6,215.5) rotate(-90)" font-family="Liberation Sans" font-size="9.8" text-anchor="middle" fill="#1e1e1e" stroke="#1e1e1e" stroke-width="0.15" textLength="89" lengthAdjust="spacingAndGlyphs">Cell voltage (vs. Mg)</text>
<text transform="translate(6.7,160.5)" font-family="Liberation Sans" font-size="13.0" text-anchor="start" fill="#1e1e1e" stroke="#1e1e1e" stroke-width="0.15">(d)</text>
<text transform="translate(67.45,167.57)" font-family="Liberation Sans" font-size="8.8" font-weight="bold" text-anchor="middle" fill="#1a1a1a" stroke="#1a1a1a" stroke-width="0.18" textLength="25.5" lengthAdjust="spacingAndGlyphs">S@MC</text>
<text transform="translate(56.3,220.77)" font-family="Liberation Sans" font-size="8.8" font-weight="bold" text-anchor="middle" fill="#1a1a1a" stroke="#1a1a1a" stroke-width="0.18" textLength="4.6" lengthAdjust="spacingAndGlyphs">S</text>
<line x1="153.5" y1="168.9" x2="164.5" y2="168.9" stroke="#1a1a1a" stroke-width="1.3" stroke-linecap="butt"/>
<line x1="153.5" y1="179.1" x2="164.5" y2="179.1" stroke="#e82020" stroke-width="1.4" stroke-dasharray="3.4,2.8" stroke-linecap="butt"/>
<line x1="153.5" y1="189" x2="164.5" y2="189" stroke="#3a50e0" stroke-width="1.4" stroke-dasharray="1.2,2.6" stroke-linecap="butt"/>
<text transform="translate(167,171.03) scale(0.93,1.0)" font-family="Liberation Sans" font-size="8.586" font-weight="bold" text-anchor="start" fill="#1e1e1e" stroke="#1e1e1e" stroke-width="0.18">1st</text>
<text transform="translate(167,181.23) scale(0.93,1.0)" font-family="Liberation Sans" font-size="8.586" font-weight="bold" text-anchor="start" fill="#1e1e1e" stroke="#1e1e1e" stroke-width="0.18">2nd</text>
<text transform="translate(167,191.13) scale(0.93,1.0)" font-family="Liberation Sans" font-size="8.586" font-weight="bold" text-anchor="start" fill="#1e1e1e" stroke="#1e1e1e" stroke-width="0.18">3rd</text>
<line x1="153.5" y1="226.5" x2="164.5" y2="226.5" stroke="#1a1a1a" stroke-width="1.3" stroke-linecap="butt"/>
<line x1="153.5" y1="236.3" x2="164.5" y2="236.3" stroke="#e82020" stroke-width="1.4" stroke-dasharray="3.4,2.8" stroke-linecap="butt"/>
<line x1="153.5" y1="246.4" x2="164.5" y2="246.4" stroke="#3a50e0" stroke-width="1.4" stroke-dasharray="1.2,2.6" stroke-linecap="butt"/>
<text transform="translate(167,228.63) scale(0.93,1.0)" font-family="Liberation Sans" font-size="8.586" font-weight="bold" text-anchor="start" fill="#1e1e1e" stroke="#1e1e1e" stroke-width="0.18">1st</text>
<text transform="translate(167,238.43) scale(0.93,1.0)" font-family="Liberation Sans" font-size="8.586" font-weight="bold" text-anchor="start" fill="#1e1e1e" stroke="#1e1e1e" stroke-width="0.18">2nd</text>
<text transform="translate(167,248.53) scale(0.93,1.0)" font-family="Liberation Sans" font-size="8.586" font-weight="bold" text-anchor="start" fill="#1e1e1e" stroke="#1e1e1e" stroke-width="0.18">3rd</text>
<rect x="225.48" y="198.3" width="2.4" height="2.4" fill="#111"/>
<rect x="228.32" y="205.4" width="2.4" height="2.4" fill="#111"/>
<rect x="231.16" y="209.3" width="2.4" height="2.4" fill="#111"/>
<rect x="234" y="211.6" width="2.4" height="2.4" fill="#111"/>
<rect x="236.84" y="214.4" width="2.4" height="2.4" fill="#111"/>
<rect x="239.68" y="217.2" width="2.4" height="2.4" fill="#111"/>
<rect x="242.52" y="220.9" width="2.4" height="2.4" fill="#111"/>
<rect x="245.36" y="224.3" width="2.4" height="2.4" fill="#111"/>
<rect x="248.2" y="226.5" width="2.4" height="2.4" fill="#111"/>
<rect x="251.04" y="227.7" width="2.4" height="2.4" fill="#111"/>
<rect x="253.88" y="226.5" width="2.4" height="2.4" fill="#111"/>
<rect x="256.72" y="225.1" width="2.4" height="2.4" fill="#111"/>
<rect x="259.56" y="226.3" width="2.4" height="2.4" fill="#111"/>
<rect x="262.4" y="226.5" width="2.4" height="2.4" fill="#111"/>
<rect x="265.24" y="227.9" width="2.4" height="2.4" fill="#111"/>
<rect x="268.08" y="227.1" width="2.4" height="2.4" fill="#111"/>
<rect x="270.92" y="228" width="2.4" height="2.4" fill="#111"/>
<rect x="273.76" y="229" width="2.4" height="2.4" fill="#111"/>
<rect x="276.6" y="229.3" width="2.4" height="2.4" fill="#111"/>
<rect x="279.44" y="227.6" width="2.4" height="2.4" fill="#111"/>
<rect x="282.28" y="230.6" width="2.4" height="2.4" fill="#111"/>
<rect x="285.12" y="231.1" width="2.4" height="2.4" fill="#111"/>
<rect x="287.96" y="231.4" width="2.4" height="2.4" fill="#111"/>
<rect x="290.8" y="229.7" width="2.4" height="2.4" fill="#111"/>
<rect x="293.64" y="231.1" width="2.4" height="2.4" fill="#111"/>
<rect x="296.48" y="231.9" width="2.4" height="2.4" fill="#111"/>
<rect x="299.32" y="231.6" width="2.4" height="2.4" fill="#111"/>
<rect x="302.16" y="232.5" width="2.4" height="2.4" fill="#111"/>
<rect x="305" y="231.4" width="2.4" height="2.4" fill="#111"/>
<rect x="307.84" y="229.3" width="2.4" height="2.4" fill="#111"/>
<rect x="310.68" y="230.7" width="2.4" height="2.4" fill="#111"/>
<rect x="313.52" y="229.9" width="2.4" height="2.4" fill="#111"/>
<rect x="316.36" y="231.9" width="2.4" height="2.4" fill="#111"/>
<rect x="319.2" y="232.8" width="2.4" height="2.4" fill="#111"/>
<rect x="322.04" y="230.7" width="2.4" height="2.4" fill="#111"/>
<rect x="324.88" y="231.1" width="2.4" height="2.4" fill="#111"/>
<rect x="327.72" y="231.9" width="2.4" height="2.4" fill="#111"/>
<rect x="330.56" y="232.5" width="2.4" height="2.4" fill="#111"/>
<rect x="333.4" y="233.1" width="2.4" height="2.4" fill="#111"/>
<rect x="336.24" y="233.3" width="2.4" height="2.4" fill="#111"/>
<rect x="339.08" y="232.5" width="2.4" height="2.4" fill="#111"/>
<rect x="341.92" y="232.8" width="2.4" height="2.4" fill="#111"/>
<rect x="344.76" y="231.6" width="2.4" height="2.4" fill="#111"/>
<rect x="347.6" y="232.8" width="2.4" height="2.4" fill="#111"/>
<rect x="350.44" y="232.3" width="2.4" height="2.4" fill="#111"/>
<rect x="353.28" y="231.8" width="2.4" height="2.4" fill="#111"/>
<rect x="356.12" y="232.6" width="2.4" height="2.4" fill="#111"/>
<rect x="358.96" y="232.8" width="2.4" height="2.4" fill="#111"/>
<circle cx="223.84" cy="176.1" r="1.3" fill="#e3121b"/>
<circle cx="226.68" cy="212" r="1.3" fill="#e3121b"/>
<circle cx="229.52" cy="222.1" r="1.3" fill="#e3121b"/>
<circle cx="232.36" cy="227.7" r="1.3" fill="#e3121b"/>
<circle cx="235.2" cy="231.1" r="1.3" fill="#e3121b"/>
<circle cx="238.04" cy="233.9" r="1.3" fill="#e3121b"/>
<circle cx="240.88" cy="236.2" r="1.3" fill="#e3121b"/>
<circle cx="243.72" cy="238.2" r="1.3" fill="#e3121b"/>
<circle cx="246.56" cy="241" r="1.3" fill="#e3121b"/>
<circle cx="249.4" cy="241.8" r="1.3" fill="#e3121b"/>
<circle cx="252.24" cy="242.4" r="1.3" fill="#e3121b"/>
<circle cx="255.08" cy="243.8" r="1.3" fill="#e3121b"/>
<circle cx="257.92" cy="244.6" r="1.3" fill="#e3121b"/>
<circle cx="260.76" cy="245.2" r="1.3" fill="#e3121b"/>
<circle cx="263.6" cy="245.8" r="1.3" fill="#e3121b"/>
<circle cx="266.44" cy="246.6" r="1.3" fill="#e3121b"/>
<circle cx="269.28" cy="247.2" r="1.3" fill="#e3121b"/>
<circle cx="272.12" cy="248" r="1.3" fill="#e3121b"/>
<circle cx="274.96" cy="248" r="1.3" fill="#e3121b"/>
<circle cx="277.8" cy="248.9" r="1.3" fill="#e3121b"/>
<rect x="219.5" y="157.4" width="142.8" height="106.6" fill="none" stroke="#1c1c1c" stroke-width="1.3"/>
<line x1="219.5" y1="250.85" x2="221.7" y2="250.85" stroke="#1c1c1c" stroke-width="0.8" stroke-linecap="butt"/>
<line x1="219.5" y1="237.5" x2="221.7" y2="237.5" stroke="#1c1c1c" stroke-width="0.8" stroke-linecap="butt"/>
<line x1="219.5" y1="224.15" x2="221.7" y2="224.15" stroke="#1c1c1c" stroke-width="0.8" stroke-linecap="butt"/>
<line x1="219.5" y1="210.8" x2="221.7" y2="210.8" stroke="#1c1c1c" stroke-width="0.8" stroke-linecap="butt"/>
<line x1="219.5" y1="197.45" x2="221.7" y2="197.45" stroke="#1c1c1c" stroke-width="0.8" stroke-linecap="butt"/>
<line x1="219.5" y1="184.1" x2="221.7" y2="184.1" stroke="#1c1c1c" stroke-width="0.8" stroke-linecap="butt"/>
<line x1="219.5" y1="170.75" x2="221.7" y2="170.75" stroke="#1c1c1c" stroke-width="0.8" stroke-linecap="butt"/>
<line x1="227.4" y1="264" x2="227.4" y2="262.2" stroke="#1c1c1c" stroke-width="0.8" stroke-linecap="butt"/>
<line x1="234.5" y1="264" x2="234.5" y2="262.2" stroke="#1c1c1c" stroke-width="0.8" stroke-linecap="butt"/>
<line x1="241.6" y1="264" x2="241.6" y2="262.2" stroke="#1c1c1c" stroke-width="0.8" stroke-linecap="butt"/>
<line x1="248.7" y1="264" x2="248.7" y2="262.2" stroke="#1c1c1c" stroke-width="0.8" stroke-linecap="butt"/>
<line x1="255.8" y1="264" x2="255.8" y2="262.2" stroke="#1c1c1c" stroke-width="0.8" stroke-linecap="butt"/>
<line x1="262.9" y1="264" x2="262.9" y2="262.2" stroke="#1c1c1c" stroke-width="0.8" stroke-linecap="butt"/>
<line x1="270" y1="264" x2="270" y2="262.2" stroke="#1c1c1c" stroke-width="0.8" stroke-linecap="butt"/>
<line x1="277.1" y1="264" x2="277.1" y2="262.2" stroke="#1c1c1c" stroke-width="0.8" stroke-linecap="butt"/>
<line x1="284.2" y1="264" x2="284.2" y2="262.2" stroke="#1c1c1c" stroke-width="0.8" stroke-linecap="butt"/>
<line x1="291.3" y1="264" x2="291.3" y2="262.2" stroke="#1c1c1c" stroke-width="0.8" stroke-linecap="butt"/>
<line x1="298.4" y1="264" x2="298.4" y2="262.2" stroke="#1c1c1c" stroke-width="0.8" stroke-linecap="butt"/>
<line x1="305.5" y1="264" x2="305.5" y2="262.2" stroke="#1c1c1c" stroke-width="0.8" stroke-linecap="butt"/>
<line x1="312.6" y1="264" x2="312.6" y2="262.2" stroke="#1c1c1c" stroke-width="0.8" stroke-linecap="butt"/>
<line x1="319.7" y1="264" x2="319.7" y2="262.2" stroke="#1c1c1c" stroke-width="0.8" stroke-linecap="butt"/>
<line x1="326.8" y1="264" x2="326.8" y2="262.2" stroke="#1c1c1c" stroke-width="0.8" stroke-linecap="butt"/>
<line x1="333.9" y1="264" x2="333.9" y2="262.2" stroke="#1c1c1c" stroke-width="0.8" stroke-linecap="butt"/>
<line x1="341" y1="264" x2="341" y2="262.2" stroke="#1c1c1c" stroke-width="0.8" stroke-linecap="butt"/>
<line x1="348.1" y1="264" x2="348.1" y2="262.2" stroke="#1c1c1c" stroke-width="0.8" stroke-linecap="butt"/>
<line x1="355.2" y1="264" x2="355.2" y2="262.2" stroke="#1c1c1c" stroke-width="0.8" stroke-linecap="butt"/>
<text transform="translate(219.2,160.37)" font-family="Liberation Sans" font-size="9.0" text-anchor="end" fill="#1e1e1e" stroke="#1e1e1e" stroke-width="0.15">800</text>
<text transform="translate(219.2,186.77)" font-family="Liberation Sans" font-size="9.0" text-anchor="end" fill="#1e1e1e" stroke="#1e1e1e" stroke-width="0.15">600</text>
<text transform="translate(219.2,213.57)" font-family="Liberation Sans" font-size="9.0" text-anchor="end" fill="#1e1e1e" stroke="#1e1e1e" stroke-width="0.15">400</text>
<text transform="translate(219.2,240.27)" font-family="Liberation Sans" font-size="9.0" text-anchor="end" fill="#1e1e1e" stroke="#1e1e1e" stroke-width="0.15">200</text>
<text transform="translate(219.2,265.67)" font-family="Liberation Sans" font-size="9.0" text-anchor="end" fill="#1e1e1e" stroke="#1e1e1e" stroke-width="0.15">0</text>
<text transform="translate(220.3,272.57)" font-family="Liberation Sans" font-size="9.0" text-anchor="middle" fill="#1e1e1e" stroke="#1e1e1e" stroke-width="0.15">0</text>
<text transform="translate(234.5,272.57)" font-family="Liberation Sans" font-size="9.0" text-anchor="middle" fill="#1e1e1e" stroke="#1e1e1e" stroke-width="0.15">5</text>
<text transform="translate(248.7,272.57)" font-family="Liberation Sans" font-size="9.0" text-anchor="middle" fill="#1e1e1e" stroke="#1e1e1e" stroke-width="0.15">10</text>
<text transform="translate(262.9,272.57)" font-family="Liberation Sans" font-size="9.0" text-anchor="middle" fill="#1e1e1e" stroke="#1e1e1e" stroke-width="0.15">15</text>
<text transform="translate(277.1,272.57)" font-family="Liberation Sans" font-size="9.0" text-anchor="middle" fill="#1e1e1e" stroke="#1e1e1e" stroke-width="0.15">20</text>
<text transform="translate(291.3,272.57)" font-family="Liberation Sans" font-size="9.0" text-anchor="middle" fill="#1e1e1e" stroke="#1e1e1e" stroke-width="0.15">25</text>
<text transform="translate(305.5,272.57)" font-family="Liberation Sans" font-size="9.0" text-anchor="middle" fill="#1e1e1e" stroke="#1e1e1e" stroke-width="0.15">30</text>
<text transform="translate(319.7,272.57)" font-family="Liberation Sans" font-size="9.0" text-anchor="middle" fill="#1e1e1e" stroke="#1e1e1e" stroke-width="0.15">35</text>
<text transform="translate(333.9,272.57)" font-family="Liberation Sans" font-size="9.0" text-anchor="middle" fill="#1e1e1e" stroke="#1e1e1e" stroke-width="0.15">40</text>
<text transform="translate(348.1,272.57)" font-family="Liberation Sans" font-size="9.0" text-anchor="middle" fill="#1e1e1e" stroke="#1e1e1e" stroke-width="0.15">45</text>
<text transform="translate(362.3,272.57)" font-family="Liberation Sans" font-size="9.0" text-anchor="middle" fill="#1e1e1e" stroke="#1e1e1e" stroke-width="0.15">50</text>
<text transform="translate(285.3,282.7)" font-family="Liberation Sans" font-size="9.8" text-anchor="middle" fill="#1e1e1e" stroke="#1e1e1e" stroke-width="0.15" textLength="58.8" lengthAdjust="spacingAndGlyphs">Cycle number</text>
<text transform="translate(201.3,214.1) rotate(-90)" font-family="Liberation Sans" font-size="9.8" text-anchor="middle" fill="#1e1e1e" stroke="#1e1e1e" stroke-width="0.15" textLength="106.8" lengthAdjust="spacingAndGlyphs">Discharge capacity (mA g<tspan font-size="6.08" dy="-3.72">-1</tspan><tspan dy="3.72">)</tspan></text>
<text transform="translate(187.9,160.5)" font-family="Liberation Sans" font-size="13.0" text-anchor="start" fill="#1e1e1e" stroke="#1e1e1e" stroke-width="0.15">(e)</text>
<rect x="316.85" y="172.25" width="2.1" height="2.1" fill="#111"/>
<circle cx="317.9" cy="183.2" r="1.2" fill="#e3121b"/>
<text transform="translate(325,175.43) scale(0.93,1.0)" font-family="Liberation Sans" font-size="8.586" font-weight="bold" text-anchor="start" fill="#1e1e1e" stroke="#1e1e1e" stroke-width="0.18">S@MC</text>
<text transform="translate(325,185.33) scale(0.93,1.0)" font-family="Liberation Sans" font-size="8.586" font-weight="bold" text-anchor="start" fill="#1e1e1e" stroke="#1e1e1e" stroke-width="0.18">S</text>
<path d="M406.2,176.4 C406.88,177.78 409.2,181.95 410.3,184.7 C411.4,187.45 412.12,189.35 412.8,192.9 C413.48,196.45 413.03,202.72 414.4,206 C415.77,209.28 418.9,211.02 421,212.6 C423.1,214.18 425.33,214.27 427,215.5 C428.67,216.73 429.8,218.02 431,220 C432.2,221.98 433.2,224.73 434.2,227.4 C435.2,230.07 436.02,233.63 437,236 C437.98,238.37 438.65,239.72 440.1,241.6 C441.55,243.48 443.58,245.42 445.7,247.3 C447.82,249.18 451.62,251.97 452.8,252.9" fill="none" stroke="#e82020" stroke-width="1.3" stroke-dasharray="3.4,2.8" stroke-linecap="butt" stroke-linejoin="round"/>
<path d="M406.2,227.4 C406.33,225.22 406.72,218.68 407,214.3 C407.28,209.92 407.48,205.35 407.9,201.1 C408.32,196.85 408.42,191.13 409.5,188.8 C410.58,186.47 412.2,188.33 414.4,187.1 C416.6,185.87 419.4,183.87 422.7,181.4 C426,178.93 430.37,175.05 434.2,172.3 C438.03,169.55 443.78,166.13 445.7,164.9" fill="none" stroke="#e82020" stroke-width="1.3" stroke-dasharray="3.4,2.8" stroke-linecap="butt" stroke-linejoin="round"/>
<path d="M407,178.1 C407.7,179.2 410.1,182.23 411.2,184.7 C412.3,187.17 412.78,189.62 413.6,192.9 C414.42,196.18 415.13,200.83 416.1,204.4 C417.07,207.97 417.48,210.47 419.4,214.3 C421.32,218.13 425.08,221.67 427.6,227.4 C430.12,233.13 432.65,243.98 434.5,248.7 C436.35,253.42 438,254.53 438.7,255.7" fill="none" stroke="#3a50e0" stroke-width="1.3" stroke-dasharray="1.2,2.6" stroke-linecap="butt" stroke-linejoin="round"/>
<path d="M407,215.9 C407.15,213.72 407.62,207.18 407.9,202.8 C408.18,198.42 407.62,193.17 408.7,189.6 C409.78,186.03 412.35,183.73 414.4,181.4 C416.45,179.07 418.67,178.07 421,175.6 C423.33,173.13 427.17,168.1 428.4,166.6" fill="none" stroke="#3a50e0" stroke-width="1.3" stroke-dasharray="1.2,2.6" stroke-linecap="butt" stroke-linejoin="round"/>
<path d="M406.3,167.5 C406.53,168.82 407,172.68 407.7,175.4 C408.4,178.12 409.57,180.98 410.5,183.8 C411.43,186.62 412.37,189.1 413.3,192.3 C414.23,195.5 414.68,200.65 416.1,203 C417.52,205.35 418.27,205.37 421.8,206.4 C425.33,207.43 433.32,208.27 437.3,209.2 C441.28,210.13 443.35,210.35 445.7,212 C448.05,213.65 449.28,216.28 451.4,219.1 C453.52,221.92 456.05,226.32 458.4,228.9 C460.75,231.48 461.97,232.48 465.5,234.6 C469.03,236.72 474.9,239.48 479.6,241.6 C484.3,243.72 487.6,244.88 493.7,247.3 C499.8,249.72 512.45,254.63 516.2,256.1" fill="none" stroke="#1a1a1a" stroke-width="1.1" stroke-linecap="butt" stroke-linejoin="round"/>
<path d="M406.4,254.3 C406.85,251.48 407.95,242.57 409.1,237.4 C410.25,232.23 411.88,228 413.3,223.3 C414.72,218.6 416.18,213.2 417.6,209.2 C419.02,205.2 419.45,201.42 421.8,199.3 C424.15,197.18 426.77,197.43 431.7,196.5 C436.63,195.57 445.77,195.1 451.4,193.7 C457.03,192.3 460.8,189.75 465.5,188.1 C470.2,186.45 475.6,184.97 479.6,183.8 C483.6,182.63 485.98,182.58 489.5,181.1 C493.02,179.62 497.18,176.57 500.7,174.9 C504.22,173.23 506.67,172.67 510.6,171.1 C514.53,169.53 521.4,166.53 524.3,165.5 C527.2,164.47 526.13,165 528,164.9 C529.87,164.8 534.25,164.9 535.5,164.9" fill="none" stroke="#1a1a1a" stroke-width="1.1" stroke-linecap="butt" stroke-linejoin="round"/>
<rect x="395" y="156.8" width="143.6" height="106.5" fill="none" stroke="#1c1c1c" stroke-width="1.3"/>
<line x1="395" y1="248.2" x2="397.2" y2="248.2" stroke="#1c1c1c" stroke-width="0.8" stroke-linecap="butt"/>
<line x1="395" y1="233.1" x2="397.2" y2="233.1" stroke="#1c1c1c" stroke-width="0.8" stroke-linecap="butt"/>
<line x1="395" y1="218" x2="397.2" y2="218" stroke="#1c1c1c" stroke-width="0.8" stroke-linecap="butt"/>
<line x1="395" y1="202.9" x2="397.2" y2="202.9" stroke="#1c1c1c" stroke-width="0.8" stroke-linecap="butt"/>
<line x1="395" y1="187.8" x2="397.2" y2="187.8" stroke="#1c1c1c" stroke-width="0.8" stroke-linecap="butt"/>
<line x1="395" y1="172.7" x2="397.2" y2="172.7" stroke="#1c1c1c" stroke-width="0.8" stroke-linecap="butt"/>
<line x1="417.38" y1="263.3" x2="417.38" y2="261.7" stroke="#1c1c1c" stroke-width="0.8" stroke-linecap="butt"/>
<line x1="428.36" y1="263.3" x2="428.36" y2="261.7" stroke="#1c1c1c" stroke-width="0.8" stroke-linecap="butt"/>
<line x1="439.34" y1="263.3" x2="439.34" y2="261.7" stroke="#1c1c1c" stroke-width="0.8" stroke-linecap="butt"/>
<line x1="450.32" y1="263.3" x2="450.32" y2="261.7" stroke="#1c1c1c" stroke-width="0.8" stroke-linecap="butt"/>
<line x1="461.3" y1="263.3" x2="461.3" y2="261.7" stroke="#1c1c1c" stroke-width="0.8" stroke-linecap="butt"/>
<line x1="472.28" y1="263.3" x2="472.28" y2="261.7" stroke="#1c1c1c" stroke-width="0.8" stroke-linecap="butt"/>
<line x1="483.26" y1="263.3" x2="483.26" y2="261.7" stroke="#1c1c1c" stroke-width="0.8" stroke-linecap="butt"/>
<line x1="494.24" y1="263.3" x2="494.24" y2="261.7" stroke="#1c1c1c" stroke-width="0.8" stroke-linecap="butt"/>
<line x1="505.22" y1="263.3" x2="505.22" y2="261.7" stroke="#1c1c1c" stroke-width="0.8" stroke-linecap="butt"/>
<line x1="516.2" y1="263.3" x2="516.2" y2="261.7" stroke="#1c1c1c" stroke-width="0.8" stroke-linecap="butt"/>
<line x1="527.18" y1="263.3" x2="527.18" y2="261.7" stroke="#1c1c1c" stroke-width="0.8" stroke-linecap="butt"/>
<text transform="translate(393.8,174.77)" font-family="Liberation Sans" font-size="9.0" text-anchor="end" fill="#1e1e1e" stroke="#1e1e1e" stroke-width="0.15">1.6</text>
<text transform="translate(393.8,205.57)" font-family="Liberation Sans" font-size="9.0" text-anchor="end" fill="#1e1e1e" stroke="#1e1e1e" stroke-width="0.15">1.2</text>
<text transform="translate(393.8,236.47)" font-family="Liberation Sans" font-size="9.0" text-anchor="end" fill="#1e1e1e" stroke="#1e1e1e" stroke-width="0.15">0.8</text>
<text transform="translate(393.8,266.17)" font-family="Liberation Sans" font-size="9.0" text-anchor="end" fill="#1e1e1e" stroke="#1e1e1e" stroke-width="0.15">0.4</text>
<text transform="translate(406.4,272.17)" font-family="Liberation Sans" font-size="9.0" text-anchor="middle" fill="#1e1e1e" stroke="#1e1e1e" stroke-width="0.15">0</text>
<text transform="translate(429,272.17)" font-family="Liberation Sans" font-size="9.0" text-anchor="middle" fill="#1e1e1e" stroke="#1e1e1e" stroke-width="0.15">50</text>
<text transform="translate(449.5,272.17)" font-family="Liberation Sans" font-size="9.0" text-anchor="middle" fill="#1e1e1e" stroke="#1e1e1e" stroke-width="0.15">100</text>
<text transform="translate(470.5,272.17)" font-family="Liberation Sans" font-size="9.0" text-anchor="middle" fill="#1e1e1e" stroke="#1e1e1e" stroke-width="0.15">150</text>
<text transform="translate(494.2,272.17)" font-family="Liberation Sans" font-size="9.0" text-anchor="middle" fill="#1e1e1e" stroke="#1e1e1e" stroke-width="0.15">200</text>
<text transform="translate(516.2,272.17)" font-family="Liberation Sans" font-size="9.0" text-anchor="middle" fill="#1e1e1e" stroke="#1e1e1e" stroke-width="0.15">250</text>
<text transform="translate(536.7,272.17)" font-family="Liberation Sans" font-size="9.0" text-anchor="middle" fill="#1e1e1e" stroke="#1e1e1e" stroke-width="0.15">300</text>
<text transform="translate(463.6,282.4)" font-family="Liberation Sans" font-size="9.8" text-anchor="middle" fill="#1e1e1e" stroke="#1e1e1e" stroke-width="0.15" textLength="79.8" lengthAdjust="spacingAndGlyphs">Capacity (mAh g<tspan font-size="6.08" dy="-3.72">-1</tspan><tspan dy="3.72">)</tspan></text>
<text transform="translate(380,213.55) rotate(-90)" font-family="Liberation Sans" font-size="9.8" text-anchor="middle" fill="#1e1e1e" stroke="#1e1e1e" stroke-width="0.15" textLength="87.7" lengthAdjust="spacingAndGlyphs">Cell voltage (vs. Mg)</text>
<text transform="translate(368.3,160.5)" font-family="Liberation Sans" font-size="13.0" text-anchor="start" fill="#1e1e1e" stroke="#1e1e1e" stroke-width="0.15">(f)</text>
<text transform="translate(460.7,179.47)" font-family="Liberation Sans" font-size="8.8" font-weight="bold" text-anchor="middle" fill="#1a1a1a" stroke="#1a1a1a" stroke-width="0.18" textLength="25.8" lengthAdjust="spacingAndGlyphs">S@MC</text>
<line x1="478.2" y1="202.2" x2="489.4" y2="202.2" stroke="#1a1a1a" stroke-width="1.3" stroke-linecap="butt"/>
<line x1="478.2" y1="212" x2="489.4" y2="212" stroke="#e82020" stroke-width="1.4" stroke-dasharray="3.4,2.8" stroke-linecap="butt"/>
<line x1="478.2" y1="221.9" x2="489.4" y2="221.9" stroke="#3a50e0" stroke-width="1.4" stroke-dasharray="1.2,2.6" stroke-linecap="butt"/>
<text transform="translate(492.3,204.33) scale(0.93,1.0)" font-family="Liberation Sans" font-size="8.586" font-weight="bold" text-anchor="start" fill="#1e1e1e" stroke="#1e1e1e" stroke-width="0.18">0.006 C</text>
<text transform="translate(492.3,214.13) scale(0.93,1.0)" font-family="Liberation Sans" font-size="8.586" font-weight="bold" text-anchor="start" fill="#1e1e1e" stroke="#1e1e1e" stroke-width="0.18">0.05 C</text>
<text transform="translate(492.3,224.03) scale(0.93,1.0)" font-family="Liberation Sans" font-size="8.586" font-weight="bold" text-anchor="start" fill="#1e1e1e" stroke="#1e1e1e" stroke-width="0.18">0.1 C</text>
<circle cx="45.7" cy="296.3" r="1.2" fill="#e3121b"/>
<circle cx="46.8" cy="318.3" r="1.2" fill="#e3121b"/>
<circle cx="47.7" cy="324.5" r="1.2" fill="#e3121b"/>
<circle cx="48.3" cy="331.5" r="1.2" fill="#e3121b"/>
<circle cx="49.1" cy="338.6" r="1.2" fill="#e3121b"/>
<path d="M49.3,340.5 C49.68,342.35 50.82,348.93 51.6,351.6 C52.38,354.27 53.02,354.8 54,356.5 C54.98,358.2 56.2,360.55 57.5,361.8 C58.8,363.05 60.47,363.22 61.8,364 C63.13,364.78 64.28,365.65 65.5,366.5 C66.72,367.35 68.1,368.85 69.1,369.1 C70.1,369.35 70.77,368.25 71.5,368 C72.23,367.75 72.83,367.35 73.5,367.6 C74.17,367.85 74.78,369.02 75.5,369.5 C76.22,369.98 76.45,370.08 77.8,370.5 C79.15,370.92 81.42,371.5 83.6,372 C85.78,372.5 87.75,373.25 90.9,373.5 C94.05,373.75 99.32,373.27 102.5,373.5 C105.68,373.73 108.02,374.65 110,374.9 C111.98,375.15 113.23,375.32 114.4,375 C115.57,374.68 116.03,373.75 117,373 C117.97,372.25 117.73,370.92 120.2,370.5 C122.67,370.08 127.43,371.1 131.8,370.5 C136.17,369.9 141.55,367.98 146.4,366.9 C151.25,365.82 156.78,364.73 160.9,364 C165.02,363.27 167.47,362.87 171.1,362.5 C174.73,362.13 180.48,362.03 182.7,361.8 C184.92,361.57 184.12,361.22 184.4,361.1" fill="none" stroke="#e3121b" stroke-width="2.1" stroke-linecap="butt" stroke-linejoin="round"/>
<circle cx="49.6" cy="342.5" r="1.2" fill="#e3121b"/>
<circle cx="50.3" cy="346" r="1.2" fill="#e3121b"/>
<circle cx="51" cy="349" r="1.2" fill="#e3121b"/>
<circle cx="52" cy="352.5" r="1.2" fill="#e3121b"/>
<circle cx="53.2" cy="355" r="1.2" fill="#e3121b"/>
<rect x="44.55" y="345.15" width="1.9" height="1.9" fill="#111"/>
<rect x="45.15" y="360.15" width="1.9" height="1.9" fill="#111"/>
<rect x="45.55" y="367.45" width="1.9" height="1.9" fill="#111"/>
<path d="M46.5,372.7 C46.87,372.95 47.95,373.73 48.7,374.2 C49.45,374.67 50.03,374.9 51,375.5 C51.97,376.1 53.33,377.3 54.5,377.8 C55.67,378.3 56.78,378.13 58,378.5 C59.22,378.87 60.55,379.55 61.8,380 C63.05,380.45 64.28,380.72 65.5,381.2 C66.72,381.68 67.9,382.25 69.1,382.9 C70.3,383.55 71.8,384.92 72.7,385.1 C73.6,385.28 73.88,384.25 74.5,384 C75.12,383.75 75.82,383.85 76.4,383.6 C76.98,383.35 77.4,382.62 78,382.5 C78.6,382.38 79.67,382.83 80,382.9" fill="none" stroke="#111" stroke-width="2.3" stroke-linecap="butt" stroke-linejoin="round"/>
<rect x="99.5" y="297.7" width="82.80000000000001" height="53.0" fill="#fff" stroke="#8a8a8a" stroke-width="1"/>
<path d="M102.2,307.5 C102.5,307.18 102.7,305.95 104,305.6 C105.3,305.25 105.67,305.43 110,305.4 C114.33,305.37 123.33,305.37 130,305.4 C136.67,305.43 141.5,305.6 150,305.6 C158.5,305.6 175.83,305.43 181,305.4" fill="none" stroke="#e3121b" stroke-width="1.4" stroke-linecap="butt" stroke-linejoin="round"/>
<circle cx="101.4" cy="316" r="0.8" fill="#e3121b"/>
<circle cx="104" cy="305.5" r="0.8" fill="#e3121b"/>
<circle cx="122" cy="305.5" r="0.8" fill="#e3121b"/>
<circle cx="140" cy="305.5" r="0.8" fill="#e3121b"/>
<circle cx="160" cy="305.5" r="0.8" fill="#e3121b"/>
<circle cx="175" cy="305.5" r="0.8" fill="#e3121b"/>
<path d="M102.2,310 L103.5,306 L106,304 L109,305 L112,304.5 L114,306 L116,307.5 L118,306.5 L119.5,308.5 L121,307" fill="none" stroke="#111" stroke-width="0.9" stroke-linecap="butt" stroke-linejoin="round"/>
<rect x="118.4" y="302.9" width="1.2" height="1.2" fill="#111"/>
<text transform="translate(98.5,297.82)" font-family="Liberation Serif" font-size="3.4" font-weight="bold" text-anchor="end" fill="#555" stroke="#555" stroke-width="0.15">120</text>
<text transform="translate(98.5,307.52)" font-family="Liberation Serif" font-size="3.4" font-weight="bold" text-anchor="end" fill="#555" stroke="#555" stroke-width="0.15">100</text>
<text transform="translate(98.5,316.12)" font-family="Liberation Serif" font-size="3.4" font-weight="bold" text-anchor="end" fill="#555" stroke="#555" stroke-width="0.15">80</text>
<text transform="translate(98.5,325.42)" font-family="Liberation Serif" font-size="3.4" font-weight="bold" text-anchor="end" fill="#555" stroke="#555" stroke-width="0.15">60</text>
<text transform="translate(98.5,333.92)" font-family="Liberation Serif" font-size="3.4" font-weight="bold" text-anchor="end" fill="#555" stroke="#555" stroke-width="0.15">40</text>
<text transform="translate(98.5,343.12)" font-family="Liberation Serif" font-size="3.4" font-weight="bold" text-anchor="end" fill="#555" stroke="#555" stroke-width="0.15">20</text>
<text transform="translate(98.5,351.82)" font-family="Liberation Serif" font-size="3.4" font-weight="bold" text-anchor="end" fill="#555" stroke="#555" stroke-width="0.15">0</text>
<text transform="translate(102,354.32)" font-family="Liberation Serif" font-size="3.4" font-weight="bold" text-anchor="middle" fill="#555" stroke="#555" stroke-width="0.15">0</text>
<text transform="translate(109.93,354.32)" font-family="Liberation Serif" font-size="3.4" font-weight="bold" text-anchor="middle" fill="#555" stroke="#555" stroke-width="0.15">20</text>
<text transform="translate(117.86,354.32)" font-family="Liberation Serif" font-size="3.4" font-weight="bold" text-anchor="middle" fill="#555" stroke="#555" stroke-width="0.15">40</text>
<text transform="translate(125.79,354.32)" font-family="Liberation Serif" font-size="3.4" font-weight="bold" text-anchor="middle" fill="#555" stroke="#555" stroke-width="0.15">60</text>
<text transform="translate(133.72,354.32)" font-family="Liberation Serif" font-size="3.4" font-weight="bold" text-anchor="middle" fill="#555" stroke="#555" stroke-width="0.15">80</text>
<text transform="translate(141.65,354.32)" font-family="Liberation Serif" font-size="3.4" font-weight="bold" text-anchor="middle" fill="#555" stroke="#555" stroke-width="0.15">100</text>
<text transform="translate(149.58,354.32)" font-family="Liberation Serif" font-size="3.4" font-weight="bold" text-anchor="middle" fill="#555" stroke="#555" stroke-width="0.15">120</text>
<text transform="translate(157.51,354.32)" font-family="Liberation Serif" font-size="3.4" font-weight="bold" text-anchor="middle" fill="#555" stroke="#555" stroke-width="0.15">140</text>
<text transform="translate(165.44,354.32)" font-family="Liberation Serif" font-size="3.4" font-weight="bold" text-anchor="middle" fill="#555" stroke="#555" stroke-width="0.15">160</text>
<text transform="translate(173.37,354.32)" font-family="Liberation Serif" font-size="3.4" font-weight="bold" text-anchor="middle" fill="#555" stroke="#555" stroke-width="0.15">180</text>
<text transform="translate(181.3,354.32)" font-family="Liberation Serif" font-size="3.4" font-weight="bold" text-anchor="middle" fill="#555" stroke="#555" stroke-width="0.15">200</text>
<text transform="translate(139.4,361.2)" font-family="Liberation Serif" font-size="6.2" font-weight="bold" text-anchor="middle" fill="#2a2a2a" stroke="#2a2a2a" stroke-width="0.15">Cycle number</text>
<text transform="translate(90.6,324) rotate(-90)" font-family="Liberation Serif" font-size="6.2" font-weight="bold" text-anchor="middle" fill="#2a2a2a" stroke="#2a2a2a" stroke-width="0.15" textLength="50" lengthAdjust="spacingAndGlyphs">Coulombic efficiency</text>
<rect x="126.8" y="327.2" width="2" height="2" fill="#111"/>
<circle cx="127.8" cy="338.2" r="1.3" fill="#e3121b"/>
<text transform="translate(137,329.93) scale(0.93,1.0)" font-family="Liberation Sans" font-size="8.586" font-weight="bold" text-anchor="start" fill="#1e1e1e" stroke="#1e1e1e" stroke-width="0.18">S</text>
<text transform="translate(137,339.93) scale(0.93,1.0)" font-family="Liberation Sans" font-size="8.586" font-weight="bold" text-anchor="start" fill="#1e1e1e" stroke="#1e1e1e" stroke-width="0.18">S@MC</text>
<rect x="42.2" y="293" width="142.8" height="107.5" fill="none" stroke="#1c1c1c" stroke-width="1.3"/>
<line x1="42.2" y1="389.66" x2="44.4" y2="389.66" stroke="#1c1c1c" stroke-width="0.8" stroke-linecap="butt"/>
<line x1="42.2" y1="379.02" x2="44.4" y2="379.02" stroke="#1c1c1c" stroke-width="0.8" stroke-linecap="butt"/>
<line x1="42.2" y1="368.38" x2="44.4" y2="368.38" stroke="#1c1c1c" stroke-width="0.8" stroke-linecap="butt"/>
<line x1="42.2" y1="357.74" x2="44.4" y2="357.74" stroke="#1c1c1c" stroke-width="0.8" stroke-linecap="butt"/>
<line x1="42.2" y1="347.1" x2="44.4" y2="347.1" stroke="#1c1c1c" stroke-width="0.8" stroke-linecap="butt"/>
<line x1="42.2" y1="336.46" x2="44.4" y2="336.46" stroke="#1c1c1c" stroke-width="0.8" stroke-linecap="butt"/>
<line x1="42.2" y1="325.82" x2="44.4" y2="325.82" stroke="#1c1c1c" stroke-width="0.8" stroke-linecap="butt"/>
<line x1="42.2" y1="315.18" x2="44.4" y2="315.18" stroke="#1c1c1c" stroke-width="0.8" stroke-linecap="butt"/>
<line x1="42.2" y1="304.54" x2="44.4" y2="304.54" stroke="#1c1c1c" stroke-width="0.8" stroke-linecap="butt"/>
<line x1="57.59" y1="400.5" x2="57.59" y2="398.9" stroke="#1c1c1c" stroke-width="0.8" stroke-linecap="butt"/>
<line x1="71.18" y1="400.5" x2="71.18" y2="398.9" stroke="#1c1c1c" stroke-width="0.8" stroke-linecap="butt"/>
<line x1="84.77" y1="400.5" x2="84.77" y2="398.9" stroke="#1c1c1c" stroke-width="0.8" stroke-linecap="butt"/>
<line x1="98.36" y1="400.5" x2="98.36" y2="398.9" stroke="#1c1c1c" stroke-width="0.8" stroke-linecap="butt"/>
<line x1="111.95" y1="400.5" x2="111.95" y2="398.9" stroke="#1c1c1c" stroke-width="0.8" stroke-linecap="butt"/>
<line x1="125.54" y1="400.5" x2="125.54" y2="398.9" stroke="#1c1c1c" stroke-width="0.8" stroke-linecap="butt"/>
<line x1="139.13" y1="400.5" x2="139.13" y2="398.9" stroke="#1c1c1c" stroke-width="0.8" stroke-linecap="butt"/>
<line x1="152.72" y1="400.5" x2="152.72" y2="398.9" stroke="#1c1c1c" stroke-width="0.8" stroke-linecap="butt"/>
<line x1="166.31" y1="400.5" x2="166.31" y2="398.9" stroke="#1c1c1c" stroke-width="0.8" stroke-linecap="butt"/>
<text transform="translate(40.1,296.47)" font-family="Liberation Sans" font-size="9.0" text-anchor="end" fill="#1e1e1e" stroke="#1e1e1e" stroke-width="0.15">1000</text>
<text transform="translate(40.1,318.37)" font-family="Liberation Sans" font-size="9.0" text-anchor="end" fill="#1e1e1e" stroke="#1e1e1e" stroke-width="0.15">800</text>
<text transform="translate(40.1,339.67)" font-family="Liberation Sans" font-size="9.0" text-anchor="end" fill="#1e1e1e" stroke="#1e1e1e" stroke-width="0.15">600</text>
<text transform="translate(40.1,360.67)" font-family="Liberation Sans" font-size="9.0" text-anchor="end" fill="#1e1e1e" stroke="#1e1e1e" stroke-width="0.15">400</text>
<text transform="translate(40.1,381.97)" font-family="Liberation Sans" font-size="9.0" text-anchor="end" fill="#1e1e1e" stroke="#1e1e1e" stroke-width="0.15">200</text>
<text transform="translate(40.1,403.07)" font-family="Liberation Sans" font-size="9.0" text-anchor="end" fill="#1e1e1e" stroke="#1e1e1e" stroke-width="0.15">0</text>
<text transform="translate(44,409.97)" font-family="Liberation Sans" font-size="9.0" text-anchor="middle" fill="#1e1e1e" stroke="#1e1e1e" stroke-width="0.15">0</text>
<text transform="translate(72.5,409.97)" font-family="Liberation Sans" font-size="9.0" text-anchor="middle" fill="#1e1e1e" stroke="#1e1e1e" stroke-width="0.15">40</text>
<text transform="translate(99.6,409.97)" font-family="Liberation Sans" font-size="9.0" text-anchor="middle" fill="#1e1e1e" stroke="#1e1e1e" stroke-width="0.15">80</text>
<text transform="translate(127.2,409.97)" font-family="Liberation Sans" font-size="9.0" text-anchor="middle" fill="#1e1e1e" stroke="#1e1e1e" stroke-width="0.15">120</text>
<text transform="translate(155,409.97)" font-family="Liberation Sans" font-size="9.0" text-anchor="middle" fill="#1e1e1e" stroke="#1e1e1e" stroke-width="0.15">160</text>
<text transform="translate(184.9,409.97)" font-family="Liberation Sans" font-size="9.0" text-anchor="middle" fill="#1e1e1e" stroke="#1e1e1e" stroke-width="0.15">200</text>
<text transform="translate(106.55,420.3)" font-family="Liberation Sans" font-size="9.8" text-anchor="middle" fill="#1e1e1e" stroke="#1e1e1e" stroke-width="0.15" textLength="57.7" lengthAdjust="spacingAndGlyphs">Cycle number</text>
<text transform="translate(17.2,352.85) rotate(-90)" font-family="Liberation Sans" font-size="9.8" text-anchor="middle" fill="#1e1e1e" stroke="#1e1e1e" stroke-width="0.15" textLength="108.7" lengthAdjust="spacingAndGlyphs">Discharge capacity (mA g<tspan font-size="6.08" dy="-3.72">-1</tspan><tspan dy="3.72">)</tspan></text>
<text transform="translate(6.7,297.3)" font-family="Liberation Sans" font-size="13.0" text-anchor="start" fill="#1e1e1e" stroke="#1e1e1e" stroke-width="0.15">(g)</text>
<line x1="241.6" y1="297.7" x2="241.6" y2="403.2" stroke="#3040c0" stroke-width="0.9" stroke-dasharray="2.4,2" stroke-linecap="butt"/>
<line x1="262.4" y1="297.7" x2="262.4" y2="403.2" stroke="#3040c0" stroke-width="0.9" stroke-dasharray="2.4,2" stroke-linecap="butt"/>
<line x1="283.5" y1="297.7" x2="283.5" y2="403.2" stroke="#3040c0" stroke-width="0.9" stroke-dasharray="2.4,2" stroke-linecap="butt"/>
<line x1="306.2" y1="297.7" x2="306.2" y2="403.2" stroke="#3040c0" stroke-width="0.9" stroke-dasharray="2.4,2" stroke-linecap="butt"/>
<line x1="330.5" y1="320.5" x2="330.5" y2="403.2" stroke="#3040c0" stroke-width="0.9" stroke-dasharray="2.4,2" stroke-linecap="butt"/>
<circle cx="235.3" cy="301.4" r="1.2" fill="#e3121b"/>
<circle cx="238.1" cy="301.4" r="1.2" fill="#e3121b"/>
<circle cx="240.9" cy="320.2" r="1.2" fill="#e3121b"/>
<circle cx="242.3" cy="330.7" r="1.2" fill="#e3121b"/>
<circle cx="244.6" cy="332.9" r="1.2" fill="#e3121b"/>
<circle cx="247.4" cy="333.5" r="1.2" fill="#e3121b"/>
<circle cx="250.2" cy="334.3" r="1.2" fill="#e3121b"/>
<circle cx="253.1" cy="337.2" r="1.2" fill="#e3121b"/>
<circle cx="255.9" cy="339" r="1.2" fill="#e3121b"/>
<circle cx="258.7" cy="340.8" r="1.2" fill="#e3121b"/>
<circle cx="261.5" cy="342" r="1.2" fill="#e3121b"/>
<circle cx="262.9" cy="349.3" r="1.2" fill="#e3121b"/>
<path d="M265.2,355.5 C266.23,355.73 269.43,356.43 271.4,356.9 C273.37,357.37 275.12,357.83 277,358.3 C278.88,358.77 281.75,359.47 282.7,359.7" fill="none" stroke="#e3121b" stroke-width="2.0" stroke-linecap="butt" stroke-linejoin="round"/>
<circle cx="284.1" cy="364.5" r="1.2" fill="#e3121b"/>
<path d="M286.9,367.3 C288.07,367.53 290.85,368.23 293.9,368.7 C296.95,369.17 303.32,369.87 305.2,370.1" fill="none" stroke="#e3121b" stroke-width="2.0" stroke-linecap="butt" stroke-linejoin="round"/>
<path d="M306.2,370.6 C306.62,370.9 306.98,371.8 308.7,372.4 C310.42,373 313.18,373.82 316.5,374.2 C319.82,374.58 326.58,374.62 328.6,374.7" fill="none" stroke="#e3121b" stroke-width="2.0" stroke-linecap="butt" stroke-linejoin="round"/>
<circle cx="330.5" cy="371.2" r="1.2" fill="#e3121b"/>
<path d="M332.3,361.9 C333.13,361.58 335.23,360.28 337.3,360 C339.37,359.72 342.07,360.02 344.7,360.2 C347.33,360.38 350.8,360.72 353.1,361.1 C355.4,361.48 357.6,362.27 358.5,362.5" fill="none" stroke="#e3121b" stroke-width="2.0" stroke-linecap="butt" stroke-linejoin="round"/>
<rect x="230.45" y="324.95" width="1.9" height="1.9" fill="#111"/>
<rect x="235.15" y="346.05" width="1.9" height="1.9" fill="#111"/>
<rect x="232.35" y="351.15" width="1.9" height="1.9" fill="#111"/>
<rect x="237.45" y="351.15" width="1.9" height="1.9" fill="#111"/>
<rect x="239.35" y="360.95" width="1.9" height="1.9" fill="#111"/>
<path d="M242.6,368.9 L246.1,372.4 L253.2,376.6 L262.3,380.8" fill="none" stroke="#111" stroke-width="2.0" stroke-linecap="butt" stroke-linejoin="round"/>
<rect x="262.35" y="382.05" width="1.9" height="1.9" fill="#111"/>
<path d="M264.4,385.1 C266.05,385.33 271,386.03 274.3,386.5 C277.6,386.97 279.93,387.32 284.2,387.9 C288.47,388.48 296.4,389.53 299.9,390 C303.4,390.47 300.2,390.52 305.2,390.7 C310.2,390.88 325.78,391.03 329.9,391.1" fill="none" stroke="#111" stroke-width="2.2" stroke-linecap="butt" stroke-linejoin="round"/>
<path d="M332.3,389.4 C334.42,389.48 340.63,389.82 345,389.9 C349.37,389.98 356.25,389.9 358.5,389.9" fill="none" stroke="#111" stroke-width="2.2" stroke-linecap="butt" stroke-linejoin="round"/>
<rect x="220.4" y="293" width="140.3" height="110.2" fill="none" stroke="#1c1c1c" stroke-width="1.3"/>
<line x1="220.4" y1="382.42" x2="222.6" y2="382.42" stroke="#1c1c1c" stroke-width="0.8" stroke-linecap="butt"/>
<line x1="220.4" y1="372.54" x2="222.6" y2="372.54" stroke="#1c1c1c" stroke-width="0.8" stroke-linecap="butt"/>
<line x1="220.4" y1="362.66" x2="222.6" y2="362.66" stroke="#1c1c1c" stroke-width="0.8" stroke-linecap="butt"/>
<line x1="220.4" y1="352.78" x2="222.6" y2="352.78" stroke="#1c1c1c" stroke-width="0.8" stroke-linecap="butt"/>
<line x1="220.4" y1="342.9" x2="222.6" y2="342.9" stroke="#1c1c1c" stroke-width="0.8" stroke-linecap="butt"/>
<line x1="220.4" y1="333.02" x2="222.6" y2="333.02" stroke="#1c1c1c" stroke-width="0.8" stroke-linecap="butt"/>
<line x1="220.4" y1="323.14" x2="222.6" y2="323.14" stroke="#1c1c1c" stroke-width="0.8" stroke-linecap="butt"/>
<line x1="220.4" y1="313.26" x2="222.6" y2="313.26" stroke="#1c1c1c" stroke-width="0.8" stroke-linecap="butt"/>
<line x1="220.4" y1="303.38" x2="222.6" y2="303.38" stroke="#1c1c1c" stroke-width="0.8" stroke-linecap="butt"/>
<line x1="236.9" y1="403.2" x2="236.9" y2="401.6" stroke="#1c1c1c" stroke-width="0.8" stroke-linecap="butt"/>
<line x1="246.8" y1="403.2" x2="246.8" y2="401.6" stroke="#1c1c1c" stroke-width="0.8" stroke-linecap="butt"/>
<line x1="256.7" y1="403.2" x2="256.7" y2="401.6" stroke="#1c1c1c" stroke-width="0.8" stroke-linecap="butt"/>
<line x1="266.6" y1="403.2" x2="266.6" y2="401.6" stroke="#1c1c1c" stroke-width="0.8" stroke-linecap="butt"/>
<line x1="276.5" y1="403.2" x2="276.5" y2="401.6" stroke="#1c1c1c" stroke-width="0.8" stroke-linecap="butt"/>
<line x1="286.4" y1="403.2" x2="286.4" y2="401.6" stroke="#1c1c1c" stroke-width="0.8" stroke-linecap="butt"/>
<line x1="296.3" y1="403.2" x2="296.3" y2="401.6" stroke="#1c1c1c" stroke-width="0.8" stroke-linecap="butt"/>
<line x1="306.2" y1="403.2" x2="306.2" y2="401.6" stroke="#1c1c1c" stroke-width="0.8" stroke-linecap="butt"/>
<line x1="316.1" y1="403.2" x2="316.1" y2="401.6" stroke="#1c1c1c" stroke-width="0.8" stroke-linecap="butt"/>
<line x1="326" y1="403.2" x2="326" y2="401.6" stroke="#1c1c1c" stroke-width="0.8" stroke-linecap="butt"/>
<line x1="335.9" y1="403.2" x2="335.9" y2="401.6" stroke="#1c1c1c" stroke-width="0.8" stroke-linecap="butt"/>
<text transform="translate(219.6,296.47)" font-family="Liberation Sans" font-size="9.0" text-anchor="end" fill="#1e1e1e" stroke="#1e1e1e" stroke-width="0.15">1000</text>
<text transform="translate(219.6,316.17)" font-family="Liberation Sans" font-size="9.0" text-anchor="end" fill="#1e1e1e" stroke="#1e1e1e" stroke-width="0.15">800</text>
<text transform="translate(219.6,335.87)" font-family="Liberation Sans" font-size="9.0" text-anchor="end" fill="#1e1e1e" stroke="#1e1e1e" stroke-width="0.15">600</text>
<text transform="translate(219.6,355.67)" font-family="Liberation Sans" font-size="9.0" text-anchor="end" fill="#1e1e1e" stroke="#1e1e1e" stroke-width="0.15">400</text>
<text transform="translate(219.6,375.37)" font-family="Liberation Sans" font-size="9.0" text-anchor="end" fill="#1e1e1e" stroke="#1e1e1e" stroke-width="0.15">200</text>
<text transform="translate(219.6,395.57)" font-family="Liberation Sans" font-size="9.0" text-anchor="end" fill="#1e1e1e" stroke="#1e1e1e" stroke-width="0.15">0</text>
<text transform="translate(226.8,411.47)" font-family="Liberation Sans" font-size="9.0" text-anchor="middle" fill="#1e1e1e" stroke="#1e1e1e" stroke-width="0.15">0</text>
<text transform="translate(244.6,411.47)" font-family="Liberation Sans" font-size="9.0" text-anchor="middle" fill="#1e1e1e" stroke="#1e1e1e" stroke-width="0.15">10</text>
<text transform="translate(258.2,411.47)" font-family="Liberation Sans" font-size="9.0" text-anchor="middle" fill="#1e1e1e" stroke="#1e1e1e" stroke-width="0.15">20</text>
<text transform="translate(278,411.47)" font-family="Liberation Sans" font-size="9.0" text-anchor="middle" fill="#1e1e1e" stroke="#1e1e1e" stroke-width="0.15">30</text>
<text transform="translate(298.2,411.47)" font-family="Liberation Sans" font-size="9.0" text-anchor="middle" fill="#1e1e1e" stroke="#1e1e1e" stroke-width="0.15">40</text>
<text transform="translate(318.3,411.47)" font-family="Liberation Sans" font-size="9.0" text-anchor="middle" fill="#1e1e1e" stroke="#1e1e1e" stroke-width="0.15">50</text>
<text transform="translate(281.1,420.3)" font-family="Liberation Sans" font-size="9.8" text-anchor="middle" fill="#1e1e1e" stroke="#1e1e1e" stroke-width="0.15" textLength="57.8" lengthAdjust="spacingAndGlyphs">Cycle number</text>
<text transform="translate(201.6,352.3) rotate(-90)" font-family="Liberation Sans" font-size="9.8" text-anchor="middle" fill="#1e1e1e" stroke="#1e1e1e" stroke-width="0.15" textLength="107.6" lengthAdjust="spacingAndGlyphs">Discharge capacity (mA g<tspan font-size="6.08" dy="-3.72">-1</tspan><tspan dy="3.72">)</tspan></text>
<text transform="translate(187.9,297.3)" font-family="Liberation Sans" font-size="13.0" text-anchor="start" fill="#1e1e1e" stroke="#1e1e1e" stroke-width="0.15">(h)</text>
<text transform="translate(232.3,311.89)" font-family="Liberation Sans" font-size="8.8" font-weight="bold" text-anchor="middle" fill="#1c2878" stroke="#1c2878" stroke-width="0.25" textLength="20.4" lengthAdjust="spacingAndGlyphs">0.02C</text>
<text transform="translate(252.4,327.69)" font-family="Liberation Sans" font-size="8.8" font-weight="bold" text-anchor="middle" fill="#1c2878" stroke="#1c2878" stroke-width="0.25" textLength="19.8" lengthAdjust="spacingAndGlyphs">0.05C</text>
<text transform="translate(273.55,350.69)" font-family="Liberation Sans" font-size="8.8" font-weight="bold" text-anchor="middle" fill="#1c2878" stroke="#1c2878" stroke-width="0.25" textLength="17.3" lengthAdjust="spacingAndGlyphs">0.1 C</text>
<text transform="translate(295.35,359.69)" font-family="Liberation Sans" font-size="8.8" font-weight="bold" text-anchor="middle" fill="#1c2878" stroke="#1c2878" stroke-width="0.25" textLength="19.7" lengthAdjust="spacingAndGlyphs">0.15C</text>
<text transform="translate(317.05,367.49)" font-family="Liberation Sans" font-size="8.8" font-weight="bold" text-anchor="middle" fill="#1c2878" stroke="#1c2878" stroke-width="0.25" textLength="17.3" lengthAdjust="spacingAndGlyphs">0.2 C</text>
<text transform="translate(343.95,353.69)" font-family="Liberation Sans" font-size="8.8" font-weight="bold" text-anchor="middle" fill="#1c2878" stroke="#1c2878" stroke-width="0.25" textLength="18.3" lengthAdjust="spacingAndGlyphs">0.1 C</text>
<rect x="317.7" y="302.3" width="2" height="2" fill="#111"/>
<circle cx="318.7" cy="313.2" r="1.2" fill="#e3121b"/>
<text transform="translate(323.5,304.73) scale(0.93,1.0)" font-family="Liberation Sans" font-size="8.586" font-weight="bold" text-anchor="start" fill="#1e1e1e" stroke="#1e1e1e" stroke-width="0.18">S</text>
<text transform="translate(325.2,314.73) scale(0.87,1.0)" font-family="Liberation Sans" font-size="8.586" font-weight="bold" text-anchor="start" fill="#1e1e1e" stroke="#1e1e1e" stroke-width="0.18">S@MC</text>
<path d="M405.5,384 C405.83,380 406.83,366.5 407.5,360 C408.17,353.5 408.75,349.17 409.5,345 C410.25,340.83 411.18,337.77 412,335 C412.82,332.23 413.4,330.07 414.4,328.4 C415.4,326.73 416.83,326.17 418,325 C419.17,323.83 420.4,323.07 421.4,321.4 C422.4,319.73 423.02,317.53 424,315 C424.98,312.47 426.75,307.67 427.3,306.2" fill="none" stroke="#30a040" stroke-width="1.3" stroke-dasharray="3,1.6,1.1,1.6" stroke-linecap="butt" stroke-linejoin="round"/>
<path d="M405.5,314 C405.67,317.5 405.92,330.17 406.5,335 C407.08,339.83 408.08,340.18 409,343 C409.92,345.82 410.32,348.08 412,351.9 C413.68,355.72 417.13,361.22 419.1,365.9 C421.07,370.58 422.25,375.9 423.8,380 C425.35,384.1 427.63,388.75 428.4,390.5" fill="none" stroke="#30a040" stroke-width="1.3" stroke-dasharray="3,1.6,1.1,1.6" stroke-linecap="butt" stroke-linejoin="round"/>
<path d="M405.5,384 C405.83,380 406.8,366.5 407.5,360 C408.2,353.5 408.87,349 409.7,345 C410.53,341 411.45,338.33 412.5,336 C413.55,333.67 414.92,332.5 416,331 C417.08,329.5 417.7,329.38 419,327 C420.3,324.62 422.3,319.53 423.8,316.7 C425.3,313.87 426.25,312.25 428,310 C429.75,307.75 433.25,304.33 434.3,303.2" fill="none" stroke="#c030c0" stroke-width="1.3" stroke-dasharray="3,1.6,1.1,1.6" stroke-linecap="butt" stroke-linejoin="round"/>
<path d="M405.5,314 C405.67,317.5 405.75,329.83 406.5,335 C407.25,340.17 408.68,342.33 410,345 C411.32,347.67 412.5,347.52 414.4,351 C416.3,354.48 419.07,361.07 421.4,365.9 C423.73,370.73 426.45,375.9 428.4,380 C430.35,384.1 432.32,388.75 433.1,390.5" fill="none" stroke="#c030c0" stroke-width="1.3" stroke-dasharray="3,1.6,1.1,1.6" stroke-linecap="butt" stroke-linejoin="round"/>
<path d="M405.5,384 C405.83,380 406.75,366.83 407.5,360 C408.25,353.17 409.08,347 410,343 C410.92,339 411.48,338.43 413,336 C414.52,333.57 416.93,330.4 419.1,328.4 C421.27,326.4 423.67,325.55 426,324 C428.33,322.45 430.93,321.1 433.1,319.1 C435.27,317.1 436.85,314.35 439,312 C441.15,309.65 444.83,306.17 446,305" fill="none" stroke="#3a50e0" stroke-width="1.3" stroke-dasharray="1.2,2.6" stroke-linecap="butt" stroke-linejoin="round"/>
<path d="M405.5,314 C405.67,317.5 405.75,330 406.5,335 C407.25,340 408.3,341.38 410,344 C411.7,346.62 414.02,347.43 416.7,350.7 C419.38,353.97 422.97,358.92 426.1,363.6 C429.23,368.28 431.78,373.93 435.5,378.8 C439.22,383.67 446.25,390.47 448.4,392.8" fill="none" stroke="#3a50e0" stroke-width="1.3" stroke-dasharray="1.2,2.6" stroke-linecap="butt" stroke-linejoin="round"/>
<path d="M405.5,383 C405.92,379.17 407.08,366.83 408,360 C408.92,353.17 409.83,346.33 411,342 C412.17,337.67 413.27,335.83 415,334 C416.73,332.17 419.17,331.93 421.4,331 C423.63,330.07 426.3,329.15 428.4,328.4 C430.5,327.65 432.03,327.27 434,326.5 C435.97,325.73 438.03,325.13 440.2,323.8 C442.37,322.47 444.67,320.27 447,318.5 C449.33,316.73 450.42,315.6 454.2,313.2 C457.98,310.8 467.12,305.62 469.7,304.1" fill="none" stroke="#e82020" stroke-width="1.3" stroke-dasharray="3.4,2.8" stroke-linecap="butt" stroke-linejoin="round"/>
<path d="M405.5,313 C405.67,316.67 405.58,329.67 406.5,335 C407.42,340.33 408.52,342.58 411,345 C413.48,347.42 417.72,346.4 421.4,349.5 C425.08,352.6 429.2,359.5 433.1,363.6 C437,367.7 440.65,370.6 444.8,374.1 C448.95,377.6 454.08,381.93 458,384.6 C461.92,387.27 466.58,389.18 468.3,390.1" fill="none" stroke="#e82020" stroke-width="1.3" stroke-dasharray="3.4,2.8" stroke-linecap="butt" stroke-linejoin="round"/>
<path d="M405.7,383 C405.88,380.65 406.23,374.07 406.8,368.9 C407.37,363.73 408.25,356.7 409.1,352 C409.95,347.3 410.73,343.75 411.9,340.7 C413.07,337.65 414.22,335.33 416.1,333.7 C417.98,332.07 419.67,331.83 423.2,330.9 C426.73,329.97 432.6,328.8 437.3,328.1 C442,327.4 446.7,327.42 451.4,326.7 C456.1,325.98 460.4,325.25 465.5,323.8 C470.6,322.35 477.18,319.9 482,318 C486.82,316.1 489.83,314.27 494.4,312.4 C498.97,310.53 505.25,308.25 509.4,306.8 C513.55,305.35 515.98,304.38 519.3,303.7 C522.62,303.02 527.63,302.87 529.3,302.7" fill="none" stroke="#1a1a1a" stroke-width="1.1" stroke-linecap="butt" stroke-linejoin="round"/>
<path d="M405.4,312.1 C405.63,315.93 406.18,330.08 406.8,335.1 C407.42,340.12 408.02,340.32 409.1,342.2 C410.18,344.08 410.95,345.23 413.3,346.4 C415.65,347.57 420.13,348.27 423.2,349.2 C426.27,350.13 428.88,350.35 431.7,352 C434.52,353.65 437.52,357.22 440.1,359.1 C442.68,360.98 444.62,361.9 447.2,363.3 C449.78,364.7 453.02,366.08 455.6,367.5 C458.18,368.92 459.65,370.15 462.7,371.8 C465.75,373.45 468.73,375.53 473.9,377.4 C479.07,379.27 487.12,381.12 493.7,383 C500.28,384.88 507.68,386.93 513.4,388.7 C519.12,390.47 525.57,392.78 528,393.6" fill="none" stroke="#1a1a1a" stroke-width="1.1" stroke-linecap="butt" stroke-linejoin="round"/>
<rect x="393.9" y="294.7" width="145.3" height="106.4" fill="none" stroke="#1c1c1c" stroke-width="1.3"/>
<line x1="393.9" y1="386.25" x2="396.1" y2="386.25" stroke="#1c1c1c" stroke-width="0.8" stroke-linecap="butt"/>
<line x1="393.9" y1="371.1" x2="396.1" y2="371.1" stroke="#1c1c1c" stroke-width="0.8" stroke-linecap="butt"/>
<line x1="393.9" y1="355.95" x2="396.1" y2="355.95" stroke="#1c1c1c" stroke-width="0.8" stroke-linecap="butt"/>
<line x1="393.9" y1="340.8" x2="396.1" y2="340.8" stroke="#1c1c1c" stroke-width="0.8" stroke-linecap="butt"/>
<line x1="393.9" y1="325.65" x2="396.1" y2="325.65" stroke="#1c1c1c" stroke-width="0.8" stroke-linecap="butt"/>
<line x1="393.9" y1="310.5" x2="396.1" y2="310.5" stroke="#1c1c1c" stroke-width="0.8" stroke-linecap="butt"/>
<line x1="415.69" y1="401.1" x2="415.69" y2="399.5" stroke="#1c1c1c" stroke-width="0.8" stroke-linecap="butt"/>
<line x1="425.67" y1="401.1" x2="425.67" y2="399.5" stroke="#1c1c1c" stroke-width="0.8" stroke-linecap="butt"/>
<line x1="435.65" y1="401.1" x2="435.65" y2="399.5" stroke="#1c1c1c" stroke-width="0.8" stroke-linecap="butt"/>
<line x1="445.64" y1="401.1" x2="445.64" y2="399.5" stroke="#1c1c1c" stroke-width="0.8" stroke-linecap="butt"/>
<line x1="455.62" y1="401.1" x2="455.62" y2="399.5" stroke="#1c1c1c" stroke-width="0.8" stroke-linecap="butt"/>
<line x1="465.61" y1="401.1" x2="465.61" y2="399.5" stroke="#1c1c1c" stroke-width="0.8" stroke-linecap="butt"/>
<line x1="475.59" y1="401.1" x2="475.59" y2="399.5" stroke="#1c1c1c" stroke-width="0.8" stroke-linecap="butt"/>
<line x1="485.58" y1="401.1" x2="485.58" y2="399.5" stroke="#1c1c1c" stroke-width="0.8" stroke-linecap="butt"/>
<line x1="495.56" y1="401.1" x2="495.56" y2="399.5" stroke="#1c1c1c" stroke-width="0.8" stroke-linecap="butt"/>
<line x1="505.55" y1="401.1" x2="505.55" y2="399.5" stroke="#1c1c1c" stroke-width="0.8" stroke-linecap="butt"/>
<line x1="515.53" y1="401.1" x2="515.53" y2="399.5" stroke="#1c1c1c" stroke-width="0.8" stroke-linecap="butt"/>
<line x1="525.52" y1="401.1" x2="525.52" y2="399.5" stroke="#1c1c1c" stroke-width="0.8" stroke-linecap="butt"/>
<text transform="translate(392.4,313.47)" font-family="Liberation Sans" font-size="9.0" text-anchor="end" fill="#1e1e1e" stroke="#1e1e1e" stroke-width="0.15">1.6</text>
<text transform="translate(392.4,344.07)" font-family="Liberation Sans" font-size="9.0" text-anchor="end" fill="#1e1e1e" stroke="#1e1e1e" stroke-width="0.15">1.2</text>
<text transform="translate(392.4,373.97)" font-family="Liberation Sans" font-size="9.0" text-anchor="end" fill="#1e1e1e" stroke="#1e1e1e" stroke-width="0.15">0.8</text>
<text transform="translate(392.4,404.57)" font-family="Liberation Sans" font-size="9.0" text-anchor="end" fill="#1e1e1e" stroke="#1e1e1e" stroke-width="0.15">0.4</text>
<text transform="translate(405.7,410.77)" font-family="Liberation Sans" font-size="9.0" text-anchor="middle" fill="#1e1e1e" stroke="#1e1e1e" stroke-width="0.15">0</text>
<text transform="translate(427.9,410.77)" font-family="Liberation Sans" font-size="9.0" text-anchor="middle" fill="#1e1e1e" stroke="#1e1e1e" stroke-width="0.15">100</text>
<text transform="translate(445.9,410.77)" font-family="Liberation Sans" font-size="9.0" text-anchor="middle" fill="#1e1e1e" stroke="#1e1e1e" stroke-width="0.15">200</text>
<text transform="translate(464.5,410.77)" font-family="Liberation Sans" font-size="9.0" text-anchor="middle" fill="#1e1e1e" stroke="#1e1e1e" stroke-width="0.15">300</text>
<text transform="translate(483.7,410.77)" font-family="Liberation Sans" font-size="9.0" text-anchor="middle" fill="#1e1e1e" stroke="#1e1e1e" stroke-width="0.15">400</text>
<text transform="translate(504,410.77)" font-family="Liberation Sans" font-size="9.0" text-anchor="middle" fill="#1e1e1e" stroke="#1e1e1e" stroke-width="0.15">500</text>
<text transform="translate(524.2,410.77)" font-family="Liberation Sans" font-size="9.0" text-anchor="middle" fill="#1e1e1e" stroke="#1e1e1e" stroke-width="0.15">600</text>
<text transform="translate(463,419.6)" font-family="Liberation Sans" font-size="9.8" text-anchor="middle" fill="#1e1e1e" stroke="#1e1e1e" stroke-width="0.15" textLength="78.6" lengthAdjust="spacingAndGlyphs">Capacity (mAh g<tspan font-size="6.08" dy="-3.72">-1</tspan><tspan dy="3.72">)</tspan></text>
<text transform="translate(380,354.2) rotate(-90)" font-family="Liberation Sans" font-size="9.8" text-anchor="middle" fill="#1e1e1e" stroke="#1e1e1e" stroke-width="0.15" textLength="86.4" lengthAdjust="spacingAndGlyphs">Cell voltage (vs. Mg)</text>
<text transform="translate(367.9,297)" font-family="Liberation Sans" font-size="13.0" text-anchor="start" fill="#1e1e1e" stroke="#1e1e1e" stroke-width="0.15">(i)</text>
<line x1="473.9" y1="328.1" x2="485.2" y2="328.1" stroke="#1a1a1a" stroke-width="1.3" stroke-linecap="butt"/>
<text transform="translate(487.5,330.23) scale(0.93,1.0)" font-family="Liberation Sans" font-size="8.586" font-weight="bold" text-anchor="start" fill="#1e1e1e" stroke="#1e1e1e" stroke-width="0.18">0.02 C</text>
<line x1="473.9" y1="338.5" x2="485.2" y2="338.5" stroke="#e82020" stroke-width="1.4" stroke-dasharray="3.4,2.8" stroke-linecap="butt"/>
<text transform="translate(487.5,340.63) scale(0.93,1.0)" font-family="Liberation Sans" font-size="8.586" font-weight="bold" text-anchor="start" fill="#1e1e1e" stroke="#1e1e1e" stroke-width="0.18">0.05 C</text>
<line x1="473.9" y1="349.2" x2="485.2" y2="349.2" stroke="#3a50e0" stroke-width="1.4" stroke-dasharray="1.2,2.6" stroke-linecap="butt"/>
<text transform="translate(487.5,351.33) scale(0.93,1.0)" font-family="Liberation Sans" font-size="8.586" font-weight="bold" text-anchor="start" fill="#1e1e1e" stroke="#1e1e1e" stroke-width="0.18">0.1 C</text>
<line x1="473.9" y1="359.1" x2="485.2" y2="359.1" stroke="#c030c0" stroke-width="1.4" stroke-dasharray="3,1.6,1.1,1.6" stroke-linecap="butt"/>
<text transform="translate(487.5,361.23) scale(0.93,1.0)" font-family="Liberation Sans" font-size="8.586" font-weight="bold" text-anchor="start" fill="#1e1e1e" stroke="#1e1e1e" stroke-width="0.18">0.15 C</text>
<line x1="473.9" y1="369.8" x2="485.2" y2="369.8" stroke="#30a040" stroke-width="1.4" stroke-dasharray="3,1.6,1.1,1.6" stroke-linecap="butt"/>
<text transform="translate(487.5,371.93) scale(0.93,1.0)" font-family="Liberation Sans" font-size="8.586" font-weight="bold" text-anchor="start" fill="#1e1e1e" stroke="#1e1e1e" stroke-width="0.18">0.2 C</text>
</svg></body></html>
